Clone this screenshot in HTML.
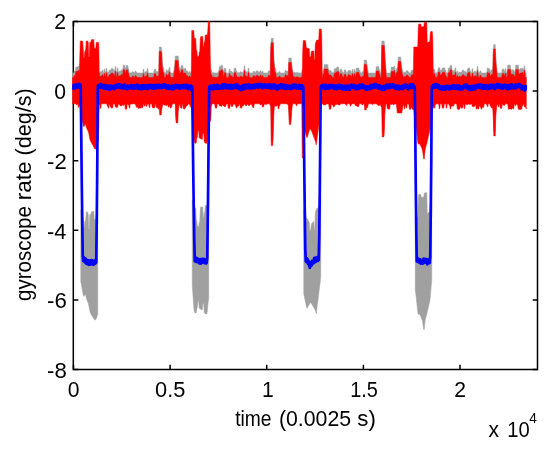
<!DOCTYPE html>
<html><head><meta charset="utf-8"><title>gyroscope rate</title>
<style>html,body{margin:0;padding:0;background:#fff}body{width:550px;height:452px;overflow:hidden}</style>
</head><body>
<svg width="550" height="452" viewBox="0 0 550 452" style="display:block">
<rect width="550" height="452" fill="#fff"/>
<rect x="73.3" y="21.5" width="464.2" height="348.0" fill="none" stroke="#000" stroke-width="1.5"/>
<path d="M73.50 369.5 v-4.8 M73.50 21.5 v4.8 M170.12 369.5 v-4.8 M170.12 21.5 v4.8 M266.75 369.5 v-4.8 M266.75 21.5 v4.8 M363.38 369.5 v-4.8 M363.38 21.5 v4.8 M460.00 369.5 v-4.8 M460.00 21.5 v4.8 M73.5 21.50 h4.8 M537.5 21.50 h-4.8 M73.5 91.10 h4.8 M537.5 91.10 h-4.8 M73.5 160.70 h4.8 M537.5 160.70 h-4.8 M73.5 230.30 h4.8 M537.5 230.30 h-4.8 M73.5 299.90 h4.8 M537.5 299.90 h-4.8 M73.5 369.50 h4.8 M537.5 369.50 h-4.8" stroke="#000" stroke-width="1.5" fill="none"/>
<clipPath id="ax"><rect x="72.2" y="20.7" width="455" height="349"/></clipPath><g clip-path="url(#ax)">
<path d="M72.25 72.9 L72.75 72.9 L73.25 72.9 L73.75 72.7 L74.25 71.1 L74.75 71.1 L75.25 72.5 L75.75 67.0 L76.25 67.0 L76.75 67.0 L77.25 67.0 L77.75 67.0 L78.25 66.0 L78.75 66.0 L79.25 70.5 L79.75 72.8 L80.25 72.5 L80.75 72.3 L81.25 71.1 L81.75 71.0 L82.25 71.0 L82.75 71.1 L83.25 71.5 L83.75 71.6 L84.25 71.6 L84.75 71.5 L85.25 71.0 L85.75 71.1 L86.25 72.7 L86.75 72.6 L87.25 70.6 L87.75 70.3 L88.25 69.2 L88.75 69.1 L89.25 69.1 L89.75 69.2 L90.25 70.4 L90.75 70.7 L91.25 71.8 L91.75 71.9 L92.25 71.4 L92.75 71.0 L93.25 68.3 L93.75 67.9 L94.25 67.9 L94.75 68.4 L95.25 72.4 L95.75 72.7 L96.25 71.2 L96.75 71.0 L97.25 71.0 L97.75 71.2 L98.25 72.7 L98.75 72.8 L99.25 72.4 L99.75 72.3 L100.25 71.8 L100.75 71.8 L101.25 71.8 L101.75 71.6 L102.25 70.1 L102.75 70.2 L103.25 72.6 L103.75 72.4 L104.25 69.0 L104.75 69.0 L105.25 72.4 L105.75 72.3 L106.25 68.0 L106.75 68.0 L107.25 72.3 L107.75 72.8 L108.25 72.0 L108.75 71.7 L109.25 70.3 L109.75 70.1 L110.25 70.1 L110.75 70.0 L111.25 68.6 L111.75 68.5 L112.25 68.5 L112.75 68.5 L113.25 69.2 L113.75 69.5 L114.25 71.2 L114.75 70.9 L115.25 66.6 L115.75 66.7 L116.25 72.2 L116.75 72.3 L117.25 67.9 L117.75 67.8 L118.25 71.6 L118.75 72.0 L119.25 71.3 L119.75 71.3 L120.25 71.3 L120.75 71.1 L121.25 69.8 L121.75 69.8 L122.25 71.7 L122.75 69.5 L123.25 65.0 L123.75 65.0 L124.25 65.0 L124.75 65.6 L125.25 68.6 L125.75 68.1 L126.25 65.5 L126.75 65.2 L127.25 65.2 L127.75 65.5 L128.25 68.3 L128.75 69.1 L129.25 72.4 L129.75 72.9 L130.25 72.8 L130.75 72.8 L131.25 72.9 L131.75 72.7 L132.25 71.7 L132.75 71.6 L133.25 72.0 L133.75 72.1 L134.25 72.8 L134.75 72.6 L135.25 70.9 L135.75 70.9 L136.25 72.1 L136.75 72.3 L137.25 72.8 L137.75 72.9 L138.25 72.9 L138.75 72.9 L139.25 72.9 L139.75 72.9 L140.25 72.9 L140.75 72.9 L141.25 72.9 L141.75 72.9 L142.25 72.9 L142.75 72.4 L143.25 69.0 L143.75 69.0 L144.25 72.4 L144.75 72.7 L145.25 71.7 L145.75 71.6 L146.25 71.6 L146.75 71.2 L147.25 68.3 L147.75 68.4 L148.25 72.4 L148.75 72.9 L149.25 72.9 L149.75 72.9 L150.25 72.9 L150.75 72.9 L151.25 72.9 L151.75 72.9 L152.25 72.9 L152.75 72.9 L153.25 72.9 L153.75 72.5 L154.25 69.5 L154.75 69.1 L155.25 69.1 L155.75 69.4 L156.25 71.5 L156.75 71.8 L157.25 71.6 L157.75 71.6 L158.25 71.6 L158.75 71.5 L159.25 47.0 L159.75 47.0 L160.25 47.0 L160.75 47.0 L161.25 47.0 L161.75 49.2 L162.25 62.2 L162.75 65.4 L163.25 67.3 L163.75 68.1 L164.25 72.3 L164.75 72.8 L165.25 72.8 L165.75 72.5 L166.25 69.8 L166.75 69.6 L167.25 71.1 L167.75 71.1 L168.25 70.1 L168.75 69.7 L169.25 67.2 L169.75 67.5 L170.25 72.2 L170.75 72.8 L171.25 72.8 L171.75 72.9 L172.25 72.9 L172.75 72.9 L173.25 72.9 L173.75 72.1 L174.25 66.0 L174.75 65.6 L175.25 56.0 L175.75 56.0 L176.25 56.0 L176.75 56.0 L177.25 56.0 L177.75 56.0 L178.25 56.0 L178.75 64.7 L179.25 66.9 L179.75 69.7 L180.25 68.2 L180.75 67.7 L181.25 65.5 L181.75 65.2 L182.25 65.2 L182.75 65.6 L183.25 68.7 L183.75 69.0 L184.25 68.4 L184.75 68.3 L185.25 68.3 L185.75 68.6 L186.25 70.8 L186.75 71.1 L187.25 71.1 L187.75 71.2 L188.25 72.7 L188.75 72.7 L189.25 71.5 L189.75 71.5 L190.25 72.7 L190.75 72.7 L191.25 71.5 L191.75 71.3 L192.25 71.0 L192.75 71.2 L193.25 72.7 L193.75 72.7 L194.25 71.5 L194.75 71.5 L195.25 72.7 L195.75 72.7 L196.25 71.5 L196.75 71.5 L197.25 72.7 L197.75 72.8 L198.25 72.3 L198.75 72.2 L199.25 72.2 L199.75 72.0 L200.25 70.0 L200.75 70.1 L201.25 72.5 L201.75 72.9 L202.25 72.9 L202.75 72.7 L203.25 71.8 L203.75 71.8 L204.25 72.7 L204.75 72.9 L205.25 72.9 L205.75 72.9 L206.25 72.9 L206.75 72.9 L207.25 72.9 L207.75 72.9 L208.25 72.9 L208.75 72.9 L209.25 72.9 L209.75 72.4 L210.25 69.0 L210.75 68.7 L211.25 70.0 L211.75 70.4 L212.25 72.6 L212.75 72.8 L213.25 72.4 L213.75 72.4 L214.25 72.8 L214.75 72.9 L215.25 72.9 L215.75 72.9 L216.25 72.9 L216.75 72.9 L217.25 72.9 L217.75 72.8 L218.25 72.0 L218.75 71.3 L219.25 66.9 L219.75 66.3 L220.25 66.3 L220.75 66.2 L221.25 65.3 L221.75 65.2 L222.25 65.2 L222.75 65.9 L223.25 71.7 L223.75 72.0 L224.25 68.5 L224.75 68.1 L225.25 68.1 L225.75 68.6 L226.25 72.4 L226.75 72.9 L227.25 72.9 L227.75 72.9 L228.25 72.9 L228.75 72.4 L229.25 69.1 L229.75 68.9 L230.25 71.0 L230.75 71.3 L231.25 71.3 L231.75 71.4 L232.25 72.3 L232.75 72.5 L233.25 72.8 L233.75 72.4 L234.25 68.4 L234.75 67.9 L235.25 67.9 L235.75 68.2 L236.25 70.7 L236.75 71.1 L237.25 72.7 L237.75 72.8 L238.25 72.4 L238.75 72.4 L239.25 72.8 L239.75 72.7 L240.25 71.7 L240.75 71.6 L241.25 72.0 L241.75 72.1 L242.25 72.6 L242.75 72.5 L243.25 71.7 L243.75 71.0 L244.25 65.8 L244.75 65.8 L245.25 71.1 L245.75 71.7 L246.25 71.6 L246.75 71.7 L247.25 72.5 L247.75 72.1 L248.25 68.0 L248.75 68.0 L249.25 72.3 L249.75 72.9 L250.25 72.9 L250.75 72.9 L251.25 72.9 L251.75 72.9 L252.25 72.9 L252.75 72.7 L253.25 71.4 L253.75 71.2 L254.25 71.2 L254.75 71.4 L255.25 72.7 L255.75 72.6 L256.25 70.9 L256.75 70.7 L257.25 70.7 L257.75 70.8 L258.25 71.8 L258.75 71.9 L259.25 71.9 L259.75 71.7 L260.25 70.4 L260.75 70.5 L261.25 72.6 L261.75 72.6 L262.25 71.0 L262.75 71.0 L263.25 72.6 L263.75 72.9 L264.25 72.9 L264.75 72.9 L265.25 72.9 L265.75 72.9 L266.25 72.9 L266.75 72.9 L267.25 72.9 L267.75 72.7 L268.25 71.0 L268.75 70.8 L269.25 70.8 L269.75 71.0 L270.25 72.7 L270.75 45.1 L271.25 38.3 L271.75 38.3 L272.25 38.3 L272.75 38.3 L273.25 38.3 L273.75 57.0 L274.25 61.6 L274.75 67.1 L275.25 67.8 L275.75 68.4 L276.25 72.4 L276.75 72.9 L277.25 72.9 L277.75 72.8 L278.25 72.6 L278.75 72.5 L279.25 71.4 L279.75 71.5 L280.25 72.7 L280.75 72.9 L281.25 72.9 L281.75 72.9 L282.25 72.9 L282.75 72.9 L283.25 72.9 L283.75 72.9 L284.25 72.9 L284.75 72.6 L285.25 70.2 L285.75 70.0 L286.25 70.9 L286.75 71.0 L287.25 71.0 L287.75 71.2 L288.25 72.5 L288.75 58.0 L289.25 58.0 L289.75 58.0 L290.25 58.0 L290.75 58.0 L291.25 58.0 L291.75 64.2 L292.25 67.1 L292.75 69.4 L293.25 72.3 L293.75 72.3 L294.25 72.3 L294.75 72.3 L295.25 72.8 L295.75 72.8 L296.25 72.4 L296.75 72.4 L297.25 72.4 L297.75 72.4 L298.25 72.8 L298.75 72.9 L299.25 72.9 L299.75 72.9 L300.25 72.9 L300.75 72.9 L301.25 72.9 L301.75 72.5 L302.25 69.4 L302.75 69.4 L303.25 72.5 L303.75 72.9 L304.25 72.9 L304.75 72.8 L305.25 72.3 L305.75 72.3 L306.25 72.8 L306.75 72.7 L307.25 71.4 L307.75 71.2 L308.25 71.2 L308.75 71.3 L309.25 71.6 L309.75 71.8 L310.25 72.7 L310.75 72.9 L311.25 72.9 L311.75 72.9 L312.25 72.9 L312.75 72.9 L313.25 72.9 L313.75 72.9 L314.25 72.9 L314.75 72.9 L315.25 72.9 L315.75 72.9 L316.25 72.9 L316.75 72.9 L317.25 72.9 L317.75 72.9 L318.25 72.9 L318.75 72.9 L319.25 72.9 L319.75 72.9 L320.25 72.9 L320.75 72.9 L321.25 72.9 L321.75 72.9 L322.25 72.9 L322.75 72.5 L323.25 69.8 L323.75 69.8 L324.25 64.5 L324.75 64.5 L325.25 64.5 L325.75 64.5 L326.25 64.5 L326.75 64.5 L327.25 64.5 L327.75 64.5 L328.25 68.6 L328.75 69.6 L329.25 70.4 L329.75 70.4 L330.25 70.4 L330.75 70.5 L331.25 71.2 L331.75 71.5 L332.25 72.7 L332.75 72.8 L333.25 72.8 L333.75 72.4 L334.25 69.0 L334.75 68.6 L335.25 68.6 L335.75 68.5 L336.25 67.8 L336.75 67.6 L337.25 67.0 L337.75 66.9 L338.25 66.9 L338.75 67.5 L339.25 72.3 L339.75 72.5 L340.25 69.5 L340.75 69.1 L341.25 69.1 L341.75 69.4 L342.25 71.8 L342.75 72.2 L343.25 72.8 L343.75 72.5 L344.25 70.1 L344.75 69.8 L345.25 69.8 L345.75 70.1 L346.25 72.5 L346.75 72.8 L347.25 72.2 L347.75 71.9 L348.25 70.2 L348.75 70.0 L349.25 70.5 L349.75 70.5 L350.25 70.5 L350.75 70.8 L351.25 72.6 L351.75 72.5 L352.25 69.3 L352.75 69.3 L353.25 72.5 L353.75 72.5 L354.25 69.3 L354.75 69.3 L355.25 72.5 L355.75 72.9 L356.25 68.0 L356.75 68.0 L357.25 68.0 L357.75 68.0 L358.25 68.0 L358.75 68.0 L359.25 69.9 L359.75 70.4 L360.25 71.6 L360.75 72.9 L361.25 72.9 L361.75 72.7 L362.25 71.8 L362.75 71.6 L363.25 71.6 L363.75 71.8 L364.25 60.0 L364.75 60.0 L365.25 60.0 L365.75 60.0 L366.25 60.0 L366.75 61.0 L367.25 67.1 L367.75 68.7 L368.25 72.9 L368.75 72.9 L369.25 72.9 L369.75 72.9 L370.25 72.9 L370.75 72.9 L371.25 72.9 L371.75 72.9 L372.25 72.9 L372.75 72.9 L373.25 72.9 L373.75 72.9 L374.25 72.9 L374.75 72.9 L375.25 72.9 L375.75 72.8 L376.25 66.5 L376.75 66.5 L377.25 66.5 L377.75 66.5 L378.25 66.5 L378.75 66.5 L379.25 69.4 L379.75 70.1 L380.25 72.1 L380.75 72.9 L381.25 72.9 L381.75 41.0 L382.25 41.0 L382.75 41.0 L383.25 41.0 L383.75 41.0 L384.25 41.0 L384.75 49.4 L385.25 60.7 L385.75 65.0 L386.25 72.5 L386.75 72.9 L387.25 72.9 L387.75 72.9 L388.25 72.9 L388.75 72.9 L389.25 72.9 L389.75 72.9 L390.25 72.9 L390.75 72.8 L391.25 67.0 L391.75 67.0 L392.25 67.0 L392.75 67.0 L393.25 67.0 L393.75 67.0 L394.25 66.1 L394.75 66.2 L395.25 72.1 L395.75 72.4 L396.25 68.8 L396.75 68.2 L397.25 67.2 L397.75 66.9 L398.25 57.0 L398.75 57.0 L399.25 57.0 L399.75 57.0 L400.25 57.0 L400.75 57.0 L401.25 63.6 L401.75 66.8 L402.25 69.2 L402.75 70.5 L403.25 72.3 L403.75 72.5 L404.25 72.2 L404.75 72.2 L405.25 72.2 L405.75 72.0 L406.25 70.8 L406.75 70.6 L407.25 70.6 L407.75 70.7 L408.25 71.7 L408.75 71.9 L409.25 72.7 L409.75 72.9 L410.25 72.9 L410.75 72.6 L411.25 70.5 L411.75 70.3 L412.25 70.3 L412.75 70.3 L413.25 70.5 L413.75 70.3 L414.25 68.9 L414.75 69.1 L415.25 72.4 L415.75 72.9 L416.25 72.9 L416.75 72.3 L417.25 67.8 L417.75 67.3 L418.25 67.3 L418.75 67.6 L419.25 69.8 L419.75 70.1 L420.25 69.8 L420.75 69.7 L421.25 69.7 L421.75 69.3 L422.25 66.3 L422.75 66.6 L423.25 72.2 L423.75 72.4 L424.25 68.4 L424.75 68.4 L425.25 72.3 L425.75 72.6 L426.25 71.1 L426.75 71.1 L427.25 72.7 L427.75 72.9 L428.25 72.9 L428.75 72.7 L429.25 71.2 L429.75 71.0 L430.25 70.7 L430.75 70.8 L431.25 71.7 L431.75 71.9 L432.25 72.0 L432.75 71.7 L433.25 69.3 L433.75 69.0 L434.25 69.0 L434.75 69.4 L435.25 72.5 L435.75 72.9 L436.25 72.9 L436.75 72.7 L437.25 71.9 L437.75 71.3 L438.25 67.9 L438.75 67.4 L439.25 67.4 L439.75 67.8 L440.25 70.6 L440.75 70.8 L441.25 70.0 L441.75 69.7 L442.25 68.3 L442.75 68.1 L443.25 67.7 L443.75 67.7 L444.25 67.7 L444.75 67.9 L445.25 69.9 L445.75 70.4 L446.25 72.5 L446.75 72.8 L447.25 72.8 L447.75 72.4 L448.25 68.4 L448.75 67.9 L449.25 67.9 L449.75 67.6 L450.25 65.5 L450.75 65.2 L451.25 65.2 L451.75 65.8 L452.25 70.8 L452.75 71.3 L453.25 70.5 L453.75 70.4 L454.25 70.4 L454.75 70.1 L455.25 67.7 L455.75 68.0 L456.25 72.3 L456.75 72.7 L457.25 71.2 L457.75 71.2 L458.25 72.7 L458.75 72.8 L459.25 72.1 L459.75 72.0 L460.25 72.2 L460.75 72.2 L461.25 72.1 L461.75 71.9 L462.25 70.3 L462.75 70.1 L463.25 70.1 L463.75 70.3 L464.25 71.2 L464.75 71.4 L465.25 71.6 L465.75 71.7 L466.25 72.7 L466.75 72.5 L467.25 69.6 L467.75 69.1 L468.25 68.0 L468.75 67.9 L469.25 67.9 L469.75 68.2 L470.25 71.0 L470.75 71.5 L471.25 72.7 L471.75 72.4 L472.25 68.6 L472.75 68.6 L473.25 72.4 L473.75 72.7 L474.25 71.5 L474.75 71.3 L475.25 71.3 L475.75 71.5 L476.25 72.7 L476.75 72.1 L477.25 66.3 L477.75 66.3 L478.25 72.0 L478.75 72.7 L479.25 72.8 L479.75 72.6 L480.25 70.7 L480.75 70.7 L481.25 72.6 L481.75 72.9 L482.25 72.9 L482.75 72.9 L483.25 72.9 L483.75 72.9 L484.25 72.9 L484.75 72.9 L485.25 72.9 L485.75 72.9 L486.25 72.9 L486.75 72.3 L487.25 68.2 L487.75 67.8 L488.25 68.5 L488.75 68.5 L489.25 68.5 L489.75 68.9 L490.25 71.6 L490.75 71.7 L491.25 70.1 L491.75 69.8 L492.25 69.8 L492.75 70.1 L493.25 50.1 L493.75 44.5 L494.25 44.5 L494.75 44.5 L495.25 44.5 L495.75 56.9 L496.25 62.7 L496.75 67.1 L497.25 72.9 L497.75 72.9 L498.25 72.9 L498.75 72.9 L499.25 72.9 L499.75 72.9 L500.25 72.9 L500.75 72.9 L501.25 72.9 L501.75 72.5 L502.25 69.3 L502.75 68.9 L503.25 68.9 L503.75 69.1 L504.25 71.2 L504.75 71.2 L505.25 68.5 L505.75 68.7 L506.25 72.4 L506.75 72.8 L507.25 72.2 L507.75 65.0 L508.25 65.0 L508.75 65.0 L509.25 65.0 L509.75 65.0 L510.25 65.0 L510.75 68.6 L511.25 69.5 L511.75 70.7 L512.25 69.8 L512.75 69.7 L513.25 69.7 L513.75 69.9 L514.25 71.4 L514.75 71.7 L515.25 72.7 L515.75 65.0 L516.25 65.0 L516.75 65.0 L517.25 65.0 L517.75 65.0 L518.25 65.0 L518.75 68.6 L519.25 69.5 L519.75 69.8 L520.25 68.6 L520.75 68.4 L521.25 68.4 L521.75 68.4 L522.25 67.8 L522.75 68.0 L523.25 69.9 L523.75 69.7 L524.25 65.7 L524.75 66.0 L525.25 72.1 L525.75 72.9 L526.25 72.9 L526.25 104.5 L525.75 102.8 L525.25 102.5 L524.75 102.5 L524.25 102.2 L523.75 99.6 L523.25 99.5 L522.75 101.2 L522.25 101.7 L521.75 104.5 L521.25 104.9 L520.75 104.9 L520.25 104.9 L519.75 104.9 L519.25 104.9 L518.75 104.9 L518.25 104.5 L517.75 101.2 L517.25 100.6 L516.75 99.4 L516.25 99.5 L515.75 101.3 L515.25 101.3 L514.75 99.5 L514.25 99.9 L513.75 104.3 L513.25 104.7 L512.75 103.6 L512.25 103.6 L511.75 104.7 L511.25 104.8 L510.75 104.5 L510.25 104.5 L509.75 104.5 L509.25 104.5 L508.75 104.8 L508.25 104.3 L507.75 99.9 L507.25 99.4 L506.75 99.3 L506.25 99.3 L505.75 99.3 L505.25 99.5 L504.75 100.9 L504.25 101.0 L503.75 100.8 L503.25 100.6 L502.75 99.7 L502.25 100.1 L501.75 103.7 L501.25 104.1 L500.75 104.1 L500.25 103.6 L499.75 99.8 L499.25 99.6 L498.75 102.4 L498.25 102.4 L497.75 99.6 L497.25 99.5 L496.75 101.5 L496.25 106.8 L495.75 112.3 L495.25 131.5 L494.75 131.5 L494.25 131.5 L493.75 131.5 L493.25 112.3 L492.75 103.3 L492.25 103.7 L491.75 103.4 L491.25 103.2 L490.75 101.7 L490.25 101.3 L489.75 99.5 L489.25 99.3 L488.75 99.3 L488.25 99.6 L487.75 102.2 L487.25 102.3 L486.75 100.0 L486.25 99.7 L485.75 99.3 L485.25 99.3 L484.75 99.3 L484.25 99.7 L483.75 102.5 L483.25 102.8 L482.75 102.8 L482.25 103.0 L481.75 104.7 L481.25 104.7 L480.75 103.0 L480.25 102.6 L479.75 101.2 L479.25 101.4 L478.75 104.5 L478.25 104.7 L477.75 103.5 L477.25 103.5 L476.75 104.7 L476.25 104.4 L475.75 100.6 L475.25 100.3 L474.75 101.7 L474.25 101.9 L473.75 102.1 L473.25 102.1 L472.75 102.1 L472.25 101.9 L471.75 99.6 L471.25 99.4 L470.75 99.8 L470.25 99.8 L469.75 99.8 L469.25 99.8 L468.75 99.4 L468.25 99.4 L467.75 100.2 L467.25 100.3 L466.75 100.2 L466.25 100.1 L465.75 99.4 L465.25 99.9 L464.75 104.3 L464.25 104.3 L463.75 99.9 L463.25 99.7 L462.75 103.2 L462.25 103.6 L461.75 103.6 L461.25 103.5 L460.75 102.5 L460.25 102.6 L459.75 104.6 L459.25 104.9 L458.75 104.9 L458.25 104.9 L457.75 104.9 L457.25 104.3 L456.75 99.9 L456.25 99.3 L455.75 99.3 L455.25 99.3 L454.75 99.3 L454.25 99.5 L453.75 101.5 L453.25 101.7 L452.75 101.6 L452.25 101.6 L451.75 101.6 L451.25 101.9 L450.75 104.5 L450.25 104.5 L449.75 101.5 L449.25 101.0 L448.75 99.5 L448.25 99.3 L447.75 99.3 L447.25 99.8 L446.75 103.6 L446.25 103.6 L445.75 99.8 L445.25 99.3 L444.75 99.3 L444.25 99.8 L443.75 103.4 L443.25 103.8 L442.75 103.8 L442.25 103.4 L441.75 99.8 L441.25 99.3 L440.75 99.3 L440.25 99.9 L439.75 104.3 L439.25 104.3 L438.75 99.9 L438.25 99.3 L437.75 99.3 L437.25 99.3 L436.75 99.3 L436.25 99.4 L435.75 100.1 L435.25 100.6 L434.75 103.4 L434.25 103.7 L433.75 103.7 L433.25 103.3 L432.75 99.7 L432.25 99.3 L431.75 99.3 L431.25 99.3 L430.75 99.7 L430.25 99.7 L429.75 99.7 L429.25 99.9 L428.75 101.3 L428.25 101.3 L427.75 99.5 L427.25 99.3 L426.75 99.3 L426.25 99.5 L425.75 101.3 L425.25 101.7 L424.75 102.5 L424.25 102.6 L423.75 102.6 L423.25 102.6 L422.75 102.3 L422.25 102.0 L421.75 99.6 L421.25 99.7 L420.75 102.6 L420.25 103.2 L419.75 104.7 L419.25 104.5 L418.75 101.5 L418.25 101.1 L417.75 101.1 L417.25 101.3 L416.75 102.9 L416.25 102.7 L415.75 99.7 L415.25 99.3 L414.75 99.3 L414.25 99.9 L413.75 104.3 L413.25 104.9 L412.75 104.9 L412.25 104.6 L411.75 102.5 L411.25 102.5 L410.75 104.6 L410.25 104.9 L409.75 104.9 L409.25 104.3 L408.75 99.9 L408.25 99.3 L407.75 99.3 L407.25 99.8 L406.75 103.5 L406.25 103.6 L405.75 100.8 L405.25 100.9 L404.75 104.4 L404.25 104.3 L403.75 99.9 L403.25 100.6 L402.75 102.7 L402.25 106.1 L401.75 108.5 L401.25 108.5 L400.75 108.5 L400.25 108.5 L399.75 108.5 L399.25 108.5 L398.75 108.5 L398.25 108.5 L397.75 108.5 L397.25 108.5 L396.75 103.1 L396.25 99.3 L395.75 99.5 L395.25 99.5 L394.75 99.4 L394.25 99.5 L393.75 100.5 L393.25 100.5 L392.75 99.4 L392.25 99.4 L391.75 99.9 L391.25 99.9 L390.75 99.4 L390.25 99.9 L389.75 104.3 L389.25 104.8 L388.75 104.6 L388.25 104.6 L387.75 104.6 L387.25 104.0 L386.75 99.8 L386.25 99.3 L385.75 99.3 L385.25 104.3 L384.75 110.4 L384.25 129.3 L383.75 132.5 L383.25 132.5 L382.75 132.5 L382.25 132.5 L381.75 102.4 L381.25 102.5 L380.75 100.7 L380.25 100.6 L379.75 100.9 L379.25 100.9 L378.75 100.9 L378.25 100.9 L377.75 100.4 L377.25 100.3 L376.75 99.4 L376.25 99.3 L375.75 99.3 L375.25 99.3 L374.75 99.3 L374.25 99.3 L373.75 99.3 L373.25 99.4 L372.75 100.0 L372.25 100.0 L371.75 99.4 L371.25 99.3 L370.75 99.3 L370.25 99.3 L369.75 99.3 L369.25 99.3 L368.75 99.3 L368.25 99.7 L367.75 103.0 L367.25 103.0 L366.75 102.2 L366.25 105.5 L365.75 105.5 L365.25 105.5 L364.75 105.5 L364.25 99.5 L363.75 99.3 L363.25 99.4 L362.75 100.5 L362.25 100.5 L361.75 99.4 L361.25 99.3 L360.75 99.3 L360.25 99.3 L359.75 99.3 L359.25 99.6 L358.75 101.9 L358.25 102.2 L357.75 102.2 L357.25 102.1 L356.75 101.3 L356.25 101.2 L355.75 101.2 L355.25 101.0 L354.75 99.5 L354.25 99.3 L353.75 99.3 L353.25 99.3 L352.75 99.3 L352.25 99.4 L351.75 99.8 L351.25 100.0 L350.75 101.6 L350.25 101.6 L349.75 99.6 L349.25 99.3 L348.75 99.3 L348.25 99.3 L347.75 99.3 L347.25 99.5 L346.75 100.8 L346.25 100.8 L345.75 99.8 L345.25 99.6 L344.75 99.3 L344.25 99.3 L343.75 99.3 L343.25 99.3 L342.75 99.3 L342.25 99.3 L341.75 99.3 L341.25 99.3 L340.75 99.3 L340.25 99.4 L339.75 100.6 L339.25 100.7 L338.75 100.4 L338.25 100.3 L337.75 99.7 L337.25 99.7 L336.75 99.9 L336.25 99.9 L335.75 99.9 L335.25 100.1 L334.75 101.8 L334.25 102.0 L333.75 102.3 L333.25 102.1 L332.75 100.5 L332.25 100.3 L331.75 100.3 L331.25 100.7 L330.75 104.4 L330.25 104.9 L329.75 104.9 L329.25 104.3 L328.75 100.0 L328.25 99.5 L327.75 99.5 L327.25 99.5 L326.75 99.3 L326.25 99.4 L325.75 100.3 L325.25 100.4 L324.75 100.4 L324.25 100.4 L323.75 100.4 L323.25 100.3 L322.75 99.4 L322.25 99.3 L321.75 99.3 L321.25 99.3 L320.75 99.3 L320.25 99.6 L319.75 102.4 L319.25 102.8 L318.75 102.8 L318.25 102.7 L317.75 102.1 L317.25 102.1 L316.75 102.5 L316.25 102.2 L315.75 99.7 L315.25 99.6 L314.75 102.0 L314.25 102.0 L313.75 99.6 L313.25 99.3 L312.75 99.3 L312.25 99.4 L311.75 99.8 L311.25 99.9 L310.75 99.7 L310.25 99.6 L309.75 99.3 L309.25 99.3 L308.75 99.3 L308.25 99.5 L307.75 101.2 L307.25 101.5 L306.75 101.5 L306.25 101.4 L305.75 100.8 L305.25 100.6 L304.75 99.4 L304.25 99.3 L303.75 99.3 L303.25 99.3 L302.75 99.3 L302.25 99.3 L301.75 99.3 L301.25 99.3 L300.75 99.3 L300.25 99.3 L299.75 99.3 L299.25 99.3 L298.75 99.3 L298.25 99.3 L297.75 99.3 L297.25 99.5 L296.75 101.3 L296.25 101.3 L295.75 99.5 L295.25 99.3 L294.75 99.3 L294.25 99.3 L293.75 99.3 L293.25 99.3 L292.75 99.3 L292.25 101.4 L291.75 105.8 L291.25 114.1 L290.75 119.9 L290.25 119.9 L289.75 119.9 L289.25 119.9 L288.75 107.6 L288.25 100.6 L287.75 99.9 L287.25 99.8 L286.75 99.4 L286.25 99.3 L285.75 99.3 L285.25 99.3 L284.75 99.3 L284.25 99.3 L283.75 99.3 L283.25 99.3 L282.75 99.3 L282.25 99.3 L281.75 99.3 L281.25 99.3 L280.75 99.3 L280.25 99.5 L279.75 101.3 L279.25 101.8 L278.75 104.5 L278.25 104.4 L277.75 100.9 L277.25 100.6 L276.75 101.6 L276.25 101.7 L275.75 101.7 L275.25 101.6 L274.75 100.4 L274.25 103.0 L273.75 111.6 L273.25 128.9 L272.75 141.1 L272.25 141.1 L271.75 141.1 L271.25 141.1 L270.75 101.7 L270.25 101.7 L269.75 99.6 L269.25 99.3 L268.75 99.3 L268.25 99.3 L267.75 99.3 L267.25 99.4 L266.75 99.9 L266.25 99.9 L265.75 99.9 L265.25 99.9 L264.75 99.5 L264.25 99.8 L263.75 102.2 L263.25 102.5 L262.75 102.5 L262.25 102.2 L261.75 99.6 L261.25 99.4 L260.75 100.5 L260.25 100.5 L259.75 99.4 L259.25 99.3 L258.75 99.3 L258.25 99.3 L257.75 99.3 L257.25 99.3 L256.75 99.3 L256.25 99.3 L255.75 99.3 L255.25 99.3 L254.75 99.3 L254.25 99.7 L253.75 103.0 L253.25 103.3 L252.75 102.5 L252.25 102.1 L251.75 100.0 L251.25 99.7 L250.75 99.8 L250.25 99.9 L249.75 100.9 L249.25 101.0 L248.75 101.0 L248.25 100.9 L247.75 99.5 L247.25 99.5 L246.75 100.8 L246.25 101.0 L245.75 101.0 L245.25 100.8 L244.75 99.5 L244.25 99.5 L243.75 101.0 L243.25 101.2 L242.75 101.2 L242.25 101.5 L241.75 103.4 L241.25 103.7 L240.75 103.7 L240.25 103.2 L239.75 99.7 L239.25 99.5 L238.75 101.4 L238.25 101.7 L237.75 101.7 L237.25 101.9 L236.75 103.5 L236.25 103.5 L235.75 101.4 L235.25 101.0 L234.75 99.5 L234.25 99.4 L233.75 99.8 L233.25 100.1 L232.75 101.8 L232.25 102.0 L231.75 102.0 L231.25 101.7 L230.75 99.6 L230.25 99.8 L229.75 103.6 L229.25 104.1 L228.75 104.1 L228.25 103.6 L227.75 99.8 L227.25 99.3 L226.75 99.3 L226.25 99.6 L225.75 101.9 L225.25 102.2 L224.75 102.2 L224.25 102.1 L223.75 101.4 L223.25 101.2 L222.75 100.3 L222.25 100.4 L221.75 101.8 L221.25 101.9 L220.75 101.4 L220.25 101.3 L219.75 101.3 L219.25 101.1 L218.75 99.5 L218.25 99.3 L217.75 99.3 L217.25 99.8 L216.75 103.4 L216.25 103.8 L215.75 103.8 L215.25 103.4 L214.75 99.8 L214.25 99.4 L213.75 99.3 L213.25 99.3 L212.75 99.3 L212.25 99.4 L211.75 100.2 L211.25 100.5 L210.75 102.1 L210.25 102.0 L209.75 99.6 L209.25 99.3 L208.75 99.3 L208.25 99.4 L207.75 100.2 L207.25 100.3 L206.75 100.4 L206.25 100.4 L205.75 99.8 L205.25 100.0 L204.75 101.5 L204.25 101.5 L203.75 99.5 L203.25 99.5 L202.75 101.5 L202.25 101.5 L201.75 99.5 L201.25 99.3 L200.75 99.3 L200.25 99.7 L199.75 103.2 L199.25 103.6 L198.75 103.9 L198.25 103.5 L197.75 99.8 L197.25 99.3 L196.75 99.3 L196.25 99.9 L195.75 104.3 L195.25 104.9 L194.75 104.9 L194.25 104.3 L193.75 99.9 L193.25 99.3 L192.75 99.3 L192.25 99.7 L191.75 102.7 L191.25 103.1 L190.75 102.6 L190.25 102.3 L189.75 100.0 L189.25 99.7 L188.75 99.3 L188.25 99.4 L187.75 100.6 L187.25 100.9 L186.75 101.4 L186.25 101.6 L185.75 102.9 L185.25 103.2 L184.75 104.4 L184.25 104.6 L183.75 104.6 L183.25 104.1 L182.75 99.8 L182.25 99.8 L181.75 103.6 L181.25 104.0 L180.75 103.1 L180.25 102.7 L179.75 99.8 L179.25 99.6 L178.75 103.5 L178.25 106.7 L177.75 118.5 L177.25 118.5 L176.75 118.5 L176.25 118.5 L175.75 114.7 L175.25 99.3 L174.75 99.3 L174.25 99.3 L173.75 99.3 L173.25 99.3 L172.75 99.3 L172.25 99.7 L171.75 102.5 L171.25 102.9 L170.75 103.7 L170.25 103.5 L169.75 101.1 L169.25 101.0 L168.75 102.7 L168.25 102.6 L167.75 100.5 L167.25 100.3 L166.75 100.9 L166.25 101.0 L165.75 100.7 L165.25 100.7 L164.75 100.7 L164.25 100.6 L163.75 100.1 L163.25 100.1 L162.75 99.9 L162.25 102.5 L161.75 104.3 L161.25 110.5 L160.75 110.5 L160.25 110.5 L159.75 110.5 L159.25 103.9 L158.75 104.3 L158.25 104.7 L157.75 103.4 L157.25 103.3 L156.75 103.3 L156.25 102.9 L155.75 99.7 L155.25 99.7 L154.75 103.0 L154.25 103.4 L153.75 103.4 L153.25 103.4 L152.75 103.3 L152.25 102.9 L151.75 99.7 L151.25 99.3 L150.75 99.3 L150.25 99.7 L149.75 103.1 L149.25 103.2 L148.75 100.0 L148.25 99.6 L147.75 99.6 L147.25 99.9 L146.75 102.1 L146.25 102.1 L145.75 99.8 L145.25 99.7 L144.75 101.6 L144.25 101.6 L143.75 100.1 L143.25 100.3 L142.75 102.9 L142.25 103.3 L141.75 103.3 L141.25 103.3 L140.75 103.6 L140.25 103.6 L139.75 103.6 L139.25 103.6 L138.75 104.0 L138.25 103.9 L137.75 102.9 L137.25 102.8 L136.75 102.8 L136.25 102.6 L135.75 100.4 L135.25 100.1 L134.75 99.4 L134.25 99.3 L133.75 99.3 L133.25 99.3 L132.75 99.6 L132.25 99.6 L131.75 99.6 L131.25 99.6 L130.75 99.3 L130.25 99.8 L129.75 103.6 L129.25 103.7 L128.75 100.7 L128.25 100.2 L127.75 99.4 L127.25 99.9 L126.75 104.3 L126.25 104.9 L125.75 104.9 L125.25 104.3 L124.75 100.1 L124.25 99.7 L123.75 100.9 L123.25 101.0 L122.75 100.6 L122.25 100.6 L121.75 101.3 L121.25 101.4 L120.75 101.4 L120.25 101.3 L119.75 100.3 L119.25 100.1 L118.75 99.4 L118.25 99.7 L117.75 102.7 L117.25 103.0 L116.75 103.0 L116.25 103.0 L115.75 102.6 L115.25 102.2 L114.75 99.6 L114.25 99.3 L113.75 99.3 L113.25 99.7 L112.75 103.1 L112.25 103.6 L111.75 103.6 L111.25 103.4 L110.75 102.4 L110.25 101.9 L109.75 99.6 L109.25 99.8 L108.75 103.6 L108.25 103.8 L107.75 101.7 L107.25 101.2 L106.75 99.5 L106.25 99.3 L105.75 99.3 L105.25 99.3 L104.75 99.3 L104.25 99.3 L103.75 99.3 L103.25 99.3 L102.75 99.3 L102.25 99.3 L101.75 99.3 L101.25 99.8 L100.75 104.1 L100.25 104.1 L99.75 99.8 L99.25 99.9 L98.75 104.3 L98.25 104.3 L97.75 99.9 L97.25 99.5 L96.75 101.0 L96.25 101.4 L95.75 102.5 L95.25 102.8 L94.75 104.6 L94.25 104.3 L93.75 99.9 L93.25 99.9 L92.75 104.3 L92.25 104.7 L91.75 102.9 L91.25 102.4 L90.75 100.2 L90.25 99.8 L89.75 99.4 L89.25 99.9 L88.75 103.8 L88.25 103.8 L87.75 99.8 L87.25 99.3 L86.75 99.3 L86.25 99.5 L85.75 101.2 L85.25 101.2 L84.75 99.5 L84.25 99.6 L83.75 102.4 L83.25 102.7 L82.75 102.0 L82.25 101.9 L81.75 101.9 L81.25 101.8 L80.75 101.1 L80.25 101.0 L79.75 101.0 L79.25 101.2 L78.75 102.9 L78.25 102.7 L77.75 99.7 L77.25 99.4 L76.75 100.2 L76.25 100.2 L75.75 99.4 L75.25 99.3 L74.75 99.3 L74.25 99.3 L73.75 99.3 L73.25 99.3 L72.75 99.3 L72.25 99.3Z M80.75 210.0 L81.25 210.0 L81.75 210.0 L82.25 210.0 L82.75 211.0 L83.25 218.7 L83.75 227.5 L84.25 227.7 L84.75 221.4 L85.25 221.4 L85.75 219.0 L86.25 211.8 L86.75 212.0 L87.25 212.2 L87.75 212.4 L88.25 214.2 L88.75 228.9 L89.25 229.1 L89.75 214.7 L90.25 214.6 L90.75 214.6 L91.25 212.3 L91.75 211.5 L92.25 211.5 L92.75 211.4 L93.25 211.3 L93.75 211.1 L94.25 218.7 L94.75 219.6 L95.25 219.4 L95.75 219.2 L96.25 212.9 L96.75 212.9 L97.25 212.9 L97.75 212.9 L97.75 313.5 L97.25 315.4 L96.75 317.4 L96.25 318.7 L95.75 319.4 L95.25 320.1 L94.75 320.1 L94.25 319.3 L93.75 318.6 L93.25 317.8 L92.75 317.0 L92.25 316.2 L91.75 315.4 L91.25 314.5 L90.75 313.6 L90.25 312.6 L89.75 310.8 L89.25 308.1 L88.75 305.2 L88.25 303.2 L87.75 301.9 L87.25 300.7 L86.75 299.5 L86.25 297.8 L85.75 295.5 L85.25 293.8 L84.75 294.9 L84.25 296.1 L83.75 296.3 L83.25 295.0 L82.75 292.2 L82.25 289.6 L81.75 286.9 L81.25 284.1 L80.75 281.4Z M192.25 199.8 L192.75 199.8 L193.25 199.8 L193.75 199.8 L194.25 207.3 L194.75 207.5 L195.25 207.8 L195.75 208.0 L196.25 219.8 L196.75 220.2 L197.25 225.5 L197.75 226.6 L198.25 226.7 L198.75 226.8 L199.25 222.3 L199.75 222.4 L200.25 209.5 L200.75 207.0 L201.25 207.0 L201.75 207.0 L202.25 207.0 L202.75 207.1 L203.25 217.6 L203.75 217.6 L204.25 212.6 L204.75 212.6 L205.25 205.6 L205.75 205.6 L206.25 205.6 L206.75 205.6 L207.25 205.6 L207.75 202.2 L208.25 192.1 L208.75 192.1 L208.75 298.2 L208.25 301.1 L207.75 306.3 L207.25 311.5 L206.75 314.0 L206.25 313.9 L205.75 313.8 L205.25 313.7 L204.75 313.3 L204.25 312.7 L203.75 303.6 L203.25 303.6 L202.75 304.6 L202.25 309.9 L201.75 309.7 L201.25 309.4 L200.75 309.2 L200.25 308.9 L199.75 308.6 L199.25 308.3 L198.75 301.9 L198.25 299.7 L197.75 303.4 L197.25 307.4 L196.75 308.7 L196.25 312.8 L195.75 312.9 L195.25 312.9 L194.75 312.2 L194.25 310.9 L193.75 306.7 L193.25 299.4 L192.75 292.2 L192.25 284.9Z M303.75 209.5 L304.25 209.5 L304.75 209.5 L305.25 209.5 L305.75 211.0 L306.25 217.4 L306.75 218.0 L307.25 218.7 L307.75 219.5 L308.25 220.4 L308.75 221.4 L309.25 222.4 L309.75 230.8 L310.25 230.5 L310.75 230.1 L311.25 224.8 L311.75 223.4 L312.25 222.9 L312.75 222.4 L313.25 221.9 L313.75 221.5 L314.25 230.1 L314.75 229.7 L315.25 214.3 L315.75 210.9 L316.25 210.1 L316.75 208.4 L317.25 208.2 L317.75 208.1 L318.25 207.9 L318.75 207.7 L319.25 196.6 L319.75 196.6 L320.25 196.6 L320.75 196.6 L320.75 276.1 L320.25 281.6 L319.75 285.6 L319.25 289.6 L318.75 293.8 L318.25 298.2 L317.75 302.2 L317.25 305.6 L316.75 310.1 L316.25 313.5 L315.75 311.8 L315.25 310.3 L314.75 309.1 L314.25 308.2 L313.75 307.4 L313.25 306.6 L312.75 305.7 L312.25 304.9 L311.75 304.0 L311.25 303.4 L310.75 302.9 L310.25 302.4 L309.75 303.1 L309.25 304.4 L308.75 305.1 L308.25 306.0 L307.75 307.0 L307.25 308.3 L306.75 307.8 L306.25 305.5 L305.75 303.1 L305.25 300.9 L304.75 298.8 L304.25 296.2 L303.75 293.8Z M415.25 216.4 L415.75 216.4 L416.25 216.4 L416.75 216.5 L417.25 216.6 L417.75 216.8 L418.25 197.8 L418.75 194.2 L419.25 194.3 L419.75 194.5 L420.25 194.6 L420.75 194.6 L421.25 197.1 L421.75 197.5 L422.25 197.4 L422.75 197.3 L423.25 197.2 L423.75 197.1 L424.25 193.5 L424.75 192.8 L425.25 192.8 L425.75 192.8 L426.25 192.8 L426.75 192.8 L427.25 213.6 L427.75 213.5 L428.25 212.4 L428.75 212.4 L429.25 212.3 L429.75 212.3 L430.25 203.5 L430.75 201.7 L431.25 201.7 L431.75 201.7 L431.75 280.1 L431.25 285.5 L430.75 291.2 L430.25 297.2 L429.75 301.3 L429.25 303.3 L428.75 305.4 L428.25 307.5 L427.75 309.8 L427.25 312.0 L426.75 314.0 L426.25 315.9 L425.75 317.8 L425.25 319.7 L424.75 324.3 L424.25 329.6 L423.75 329.6 L423.25 326.7 L422.75 322.6 L422.25 320.0 L421.75 318.9 L421.25 317.7 L420.75 316.6 L420.25 315.6 L419.75 314.5 L419.25 314.0 L418.75 314.2 L418.25 314.3 L417.75 312.0 L417.25 307.2 L416.75 302.4 L416.25 297.7 L415.75 293.5 L415.25 289.8Z" fill="#a0a0a0" stroke="#a0a0a0" stroke-width="0.5" stroke-linejoin="round"/>
<path d="M72.25 77.4 L72.75 77.4 L73.25 77.4 L73.75 77.2 L74.25 75.6 L74.75 75.6 L75.25 77.0 L75.75 71.5 L76.25 71.5 L76.75 71.5 L77.25 71.5 L77.75 71.5 L78.25 70.5 L78.75 70.5 L79.25 75.0 L79.75 58.5 L80.25 41.0 L80.75 41.0 L81.25 41.0 L81.75 41.0 L82.25 41.0 L82.75 42.0 L83.25 49.5 L83.75 58.0 L84.25 58.0 L84.75 51.4 L85.25 51.2 L85.75 48.5 L86.25 41.0 L86.75 41.0 L87.25 41.0 L87.75 41.0 L88.25 42.5 L88.75 57.0 L89.25 57.0 L89.75 42.5 L90.25 42.5 L90.75 42.5 L91.25 40.2 L91.75 39.5 L92.25 39.5 L92.75 39.5 L93.25 39.5 L93.75 39.5 L94.25 47.4 L94.75 48.5 L95.25 48.5 L95.75 48.5 L96.25 42.5 L96.75 42.5 L97.25 42.5 L97.75 42.5 L98.25 42.5 L98.75 42.5 L99.25 71.8 L99.75 76.8 L100.25 76.3 L100.75 76.3 L101.25 76.3 L101.75 76.1 L102.25 74.6 L102.75 74.7 L103.25 77.1 L103.75 76.9 L104.25 73.5 L104.75 73.5 L105.25 76.9 L105.75 76.8 L106.25 72.5 L106.75 72.5 L107.25 76.8 L107.75 77.3 L108.25 76.5 L108.75 76.2 L109.25 74.8 L109.75 74.7 L110.25 74.6 L110.75 74.5 L111.25 73.1 L111.75 73.0 L112.25 73.0 L112.75 73.1 L113.25 73.7 L113.75 74.0 L114.25 75.8 L114.75 75.4 L115.25 71.1 L115.75 71.2 L116.25 76.7 L116.75 76.8 L117.25 72.4 L117.75 72.4 L118.25 76.1 L118.75 76.5 L119.25 75.9 L119.75 75.8 L120.25 75.8 L120.75 75.6 L121.25 74.3 L121.75 74.4 L122.25 76.3 L122.75 74.0 L123.25 69.5 L123.75 69.5 L124.25 69.5 L124.75 70.1 L125.25 73.1 L125.75 72.7 L126.25 70.0 L126.75 69.7 L127.25 69.7 L127.75 70.1 L128.25 72.8 L128.75 73.6 L129.25 77.0 L129.75 77.4 L130.25 77.4 L130.75 77.4 L131.25 77.4 L131.75 77.2 L132.25 76.2 L132.75 76.1 L133.25 76.5 L133.75 76.6 L134.25 77.3 L134.75 77.2 L135.25 75.5 L135.75 75.4 L136.25 76.6 L136.75 76.8 L137.25 77.3 L137.75 77.4 L138.25 77.4 L138.75 77.4 L139.25 77.4 L139.75 77.4 L140.25 77.4 L140.75 77.4 L141.25 77.4 L141.75 77.4 L142.25 77.4 L142.75 77.0 L143.25 73.6 L143.75 73.6 L144.25 77.0 L144.75 77.2 L145.25 76.2 L145.75 76.1 L146.25 76.1 L146.75 75.7 L147.25 72.8 L147.75 73.0 L148.25 76.9 L148.75 77.4 L149.25 77.4 L149.75 77.4 L150.25 77.4 L150.75 77.4 L151.25 77.4 L151.75 77.4 L152.25 77.4 L152.75 77.4 L153.25 77.4 L153.75 77.0 L154.25 74.0 L154.75 73.6 L155.25 73.6 L155.75 73.9 L156.25 76.1 L156.75 76.3 L157.25 76.2 L157.75 76.1 L158.25 76.1 L158.75 76.0 L159.25 51.5 L159.75 51.5 L160.25 51.5 L160.75 51.5 L161.25 51.5 L161.75 53.7 L162.25 66.7 L162.75 70.0 L163.25 71.9 L163.75 72.6 L164.25 76.8 L164.75 77.3 L165.25 77.4 L165.75 77.0 L166.25 74.3 L166.75 74.2 L167.25 75.6 L167.75 75.6 L168.25 74.6 L168.75 74.2 L169.25 71.7 L169.75 72.0 L170.25 76.7 L170.75 77.3 L171.25 77.4 L171.75 77.4 L172.25 77.4 L172.75 77.4 L173.25 77.4 L173.75 76.6 L174.25 70.5 L174.75 70.1 L175.25 60.5 L175.75 60.5 L176.25 60.5 L176.75 60.5 L177.25 60.5 L177.75 60.5 L178.25 60.5 L178.75 69.2 L179.25 71.4 L179.75 74.3 L180.25 72.7 L180.75 72.2 L181.25 70.0 L181.75 69.7 L182.25 69.7 L182.75 70.1 L183.25 73.3 L183.75 73.6 L184.25 72.9 L184.75 72.9 L185.25 72.9 L185.75 73.1 L186.25 75.3 L186.75 75.6 L187.25 75.6 L187.75 75.8 L188.25 77.2 L188.75 77.2 L189.25 76.0 L189.75 76.0 L190.25 77.2 L190.75 77.2 L191.25 76.0 L191.75 30.5 L192.25 30.5 L192.75 30.5 L193.25 30.5 L193.75 30.5 L194.25 38.0 L194.75 38.2 L195.25 38.3 L195.75 38.4 L196.25 50.0 L196.75 50.3 L197.25 55.5 L197.75 56.5 L198.25 56.5 L198.75 56.5 L199.25 52.0 L199.75 52.0 L200.25 39.1 L200.75 36.5 L201.25 36.5 L201.75 36.5 L202.25 36.5 L202.75 36.5 L203.25 47.0 L203.75 47.0 L204.25 42.0 L204.75 42.0 L205.25 35.0 L205.75 35.0 L206.25 35.0 L206.75 35.0 L207.25 35.0 L207.75 31.6 L208.25 21.5 L208.75 21.5 L209.25 21.5 L209.75 21.5 L210.25 55.6 L210.75 73.2 L211.25 74.5 L211.75 74.9 L212.25 77.1 L212.75 77.3 L213.25 76.9 L213.75 76.9 L214.25 77.3 L214.75 77.4 L215.25 77.4 L215.75 77.4 L216.25 77.4 L216.75 77.4 L217.25 77.4 L217.75 77.3 L218.25 76.5 L218.75 75.9 L219.25 71.4 L219.75 70.8 L220.25 70.8 L220.75 70.7 L221.25 69.8 L221.75 69.7 L222.25 69.7 L222.75 70.4 L223.25 76.3 L223.75 76.6 L224.25 73.1 L224.75 72.6 L225.25 72.6 L225.75 73.1 L226.25 76.9 L226.75 77.4 L227.25 77.4 L227.75 77.4 L228.25 77.4 L228.75 77.0 L229.25 73.6 L229.75 73.4 L230.25 75.5 L230.75 75.8 L231.25 75.8 L231.75 75.9 L232.25 76.8 L232.75 77.0 L233.25 77.3 L233.75 76.9 L234.25 72.9 L234.75 72.4 L235.25 72.4 L235.75 72.8 L236.25 75.2 L236.75 75.7 L237.25 77.2 L237.75 77.3 L238.25 77.0 L238.75 77.0 L239.25 77.3 L239.75 77.2 L240.25 76.2 L240.75 76.2 L241.25 76.5 L241.75 76.6 L242.25 77.1 L242.75 77.1 L243.25 76.2 L243.75 75.5 L244.25 70.4 L244.75 70.4 L245.25 75.6 L245.75 76.2 L246.25 76.1 L246.75 76.2 L247.25 77.0 L247.75 76.6 L248.25 72.5 L248.75 72.5 L249.25 76.8 L249.75 77.4 L250.25 77.4 L250.75 77.4 L251.25 77.4 L251.75 77.4 L252.25 77.4 L252.75 77.2 L253.25 75.9 L253.75 75.8 L254.25 75.8 L254.75 75.9 L255.25 77.2 L255.75 77.2 L256.25 75.4 L256.75 75.2 L257.25 75.2 L257.75 75.3 L258.25 76.3 L258.75 76.4 L259.25 76.4 L259.75 76.3 L260.25 74.9 L260.75 75.0 L261.25 77.1 L261.75 77.2 L262.25 75.5 L262.75 75.5 L263.25 77.2 L263.75 77.4 L264.25 77.4 L264.75 77.4 L265.25 77.4 L265.75 77.4 L266.25 77.4 L266.75 77.4 L267.25 77.4 L267.75 77.2 L268.25 75.6 L268.75 75.4 L269.25 75.4 L269.75 75.6 L270.25 77.2 L270.75 49.6 L271.25 42.8 L271.75 42.8 L272.25 42.8 L272.75 42.8 L273.25 42.8 L273.75 61.5 L274.25 66.1 L274.75 71.6 L275.25 72.3 L275.75 72.9 L276.25 76.9 L276.75 77.4 L277.25 77.4 L277.75 77.4 L278.25 77.2 L278.75 77.0 L279.25 76.0 L279.75 76.0 L280.25 77.2 L280.75 77.4 L281.25 77.4 L281.75 77.4 L282.25 77.4 L282.75 77.4 L283.25 77.4 L283.75 77.4 L284.25 77.4 L284.75 77.1 L285.25 74.8 L285.75 74.6 L286.25 75.4 L286.75 75.5 L287.25 75.5 L287.75 75.7 L288.25 77.0 L288.75 62.5 L289.25 62.5 L289.75 62.5 L290.25 62.5 L290.75 62.5 L291.25 62.5 L291.75 68.7 L292.25 71.6 L292.75 73.9 L293.25 76.8 L293.75 76.8 L294.25 76.8 L294.75 76.8 L295.25 77.3 L295.75 77.3 L296.25 77.0 L296.75 76.9 L297.25 76.9 L297.75 77.0 L298.25 77.3 L298.75 77.4 L299.25 77.4 L299.75 77.4 L300.25 77.4 L300.75 77.4 L301.25 77.4 L301.75 77.0 L302.25 73.9 L302.75 49.4 L303.25 40.5 L303.75 40.5 L304.25 40.5 L304.75 40.5 L305.25 40.5 L305.75 41.7 L306.25 47.6 L306.75 47.8 L307.25 48.0 L307.75 48.2 L308.25 48.4 L308.75 48.6 L309.25 48.7 L309.75 57.0 L310.25 57.0 L310.75 57.0 L311.25 52.0 L311.75 51.0 L312.25 51.0 L312.75 51.0 L313.25 51.0 L313.75 51.0 L314.25 60.0 L314.75 60.0 L315.25 45.0 L315.75 42.0 L316.25 41.5 L316.75 40.0 L317.25 40.0 L317.75 40.0 L318.25 40.0 L318.75 40.0 L319.25 29.0 L319.75 29.0 L320.25 29.0 L320.75 29.0 L321.25 29.0 L321.75 34.9 L322.25 77.4 L322.75 77.0 L323.25 74.3 L323.75 74.3 L324.25 69.0 L324.75 69.0 L325.25 69.0 L325.75 69.0 L326.25 69.0 L326.75 69.0 L327.25 69.0 L327.75 69.0 L328.25 73.1 L328.75 74.1 L329.25 74.9 L329.75 74.9 L330.25 74.9 L330.75 75.0 L331.25 75.7 L331.75 76.0 L332.25 77.2 L332.75 77.4 L333.25 77.4 L333.75 76.9 L334.25 73.5 L334.75 73.1 L335.25 73.1 L335.75 73.0 L336.25 72.3 L336.75 72.1 L337.25 71.5 L337.75 71.4 L338.25 71.4 L338.75 72.0 L339.25 76.8 L339.75 77.0 L340.25 74.0 L340.75 73.6 L341.25 73.6 L341.75 73.9 L342.25 76.4 L342.75 76.7 L343.25 77.3 L343.75 77.1 L344.25 74.6 L344.75 74.3 L345.25 74.3 L345.75 74.6 L346.25 77.1 L346.75 77.3 L347.25 76.8 L347.75 76.5 L348.25 74.7 L348.75 74.5 L349.25 75.0 L349.75 75.1 L350.25 75.1 L350.75 75.3 L351.25 77.1 L351.75 77.0 L352.25 73.8 L352.75 73.8 L353.25 77.0 L353.75 77.0 L354.25 73.8 L354.75 73.8 L355.25 77.0 L355.75 77.4 L356.25 72.5 L356.75 72.5 L357.25 72.5 L357.75 72.5 L358.25 72.5 L358.75 72.5 L359.25 74.5 L359.75 75.0 L360.25 76.2 L360.75 77.4 L361.25 77.4 L361.75 77.3 L362.25 76.3 L362.75 76.2 L363.25 76.2 L363.75 76.3 L364.25 64.5 L364.75 64.5 L365.25 64.5 L365.75 64.5 L366.25 64.5 L366.75 65.6 L367.25 71.6 L367.75 73.2 L368.25 77.4 L368.75 77.4 L369.25 77.4 L369.75 77.4 L370.25 77.4 L370.75 77.4 L371.25 77.4 L371.75 77.4 L372.25 77.4 L372.75 77.4 L373.25 77.4 L373.75 77.4 L374.25 77.4 L374.75 77.4 L375.25 77.4 L375.75 77.3 L376.25 71.0 L376.75 71.0 L377.25 71.0 L377.75 71.0 L378.25 71.0 L378.75 71.0 L379.25 74.0 L379.75 74.7 L380.25 76.7 L380.75 77.4 L381.25 77.4 L381.75 45.5 L382.25 45.5 L382.75 45.5 L383.25 45.5 L383.75 45.5 L384.25 45.5 L384.75 53.9 L385.25 65.2 L385.75 69.5 L386.25 77.0 L386.75 77.4 L387.25 77.4 L387.75 77.4 L388.25 77.4 L388.75 77.4 L389.25 77.4 L389.75 77.4 L390.25 77.4 L390.75 77.3 L391.25 71.5 L391.75 71.5 L392.25 71.5 L392.75 71.5 L393.25 71.5 L393.75 71.5 L394.25 70.6 L394.75 70.7 L395.25 76.6 L395.75 76.9 L396.25 73.3 L396.75 72.7 L397.25 71.8 L397.75 71.5 L398.25 61.5 L398.75 61.5 L399.25 61.5 L399.75 61.5 L400.25 61.5 L400.75 61.5 L401.25 68.1 L401.75 71.3 L402.25 73.8 L402.75 75.0 L403.25 76.9 L403.75 77.1 L404.25 76.7 L404.75 76.7 L405.25 76.7 L405.75 76.5 L406.25 75.3 L406.75 75.1 L407.25 75.1 L407.75 75.3 L408.25 76.2 L408.75 76.4 L409.25 77.3 L409.75 77.4 L410.25 77.4 L410.75 77.1 L411.25 75.0 L411.75 74.8 L412.25 74.8 L412.75 74.8 L413.25 75.0 L413.75 47.0 L414.25 47.0 L414.75 47.0 L415.25 47.0 L415.75 47.0 L416.25 47.0 L416.75 47.0 L417.25 47.0 L417.75 47.0 L418.25 27.8 L418.75 24.0 L419.25 24.0 L419.75 24.0 L420.25 24.0 L420.75 24.0 L421.25 26.5 L421.75 26.9 L422.25 26.8 L422.75 26.7 L423.25 26.6 L423.75 26.5 L424.25 22.9 L424.75 22.2 L425.25 22.2 L425.75 22.2 L426.25 22.2 L426.75 22.2 L427.25 43.0 L427.75 43.0 L428.25 42.0 L428.75 42.0 L429.25 42.0 L429.75 42.0 L430.25 33.3 L430.75 31.5 L431.25 31.5 L431.75 31.5 L432.25 31.5 L432.75 37.1 L433.25 73.8 L433.75 73.5 L434.25 73.5 L434.75 73.9 L435.25 77.0 L435.75 77.4 L436.25 77.4 L436.75 77.3 L437.25 76.4 L437.75 75.8 L438.25 72.4 L438.75 72.0 L439.25 72.0 L439.75 72.3 L440.25 75.1 L440.75 75.3 L441.25 74.5 L441.75 74.2 L442.25 72.8 L442.75 72.6 L443.25 72.2 L443.75 72.2 L444.25 72.2 L444.75 72.4 L445.25 74.4 L445.75 74.9 L446.25 77.1 L446.75 77.3 L447.25 77.4 L447.75 76.9 L448.25 72.9 L448.75 72.4 L449.25 72.4 L449.75 72.2 L450.25 70.0 L450.75 69.7 L451.25 69.7 L451.75 70.3 L452.25 75.3 L452.75 75.8 L453.25 75.0 L453.75 74.9 L454.25 74.9 L454.75 74.6 L455.25 72.3 L455.75 72.5 L456.25 76.8 L456.75 77.2 L457.25 75.7 L457.75 75.7 L458.25 77.2 L458.75 77.3 L459.25 76.6 L459.75 76.6 L460.25 76.7 L460.75 76.8 L461.25 76.6 L461.75 76.4 L462.25 74.9 L462.75 74.7 L463.25 74.7 L463.75 74.8 L464.25 75.7 L464.75 75.9 L465.25 76.1 L465.75 76.2 L466.25 77.2 L466.75 77.0 L467.25 74.1 L467.75 73.6 L468.25 72.5 L468.75 72.4 L469.25 72.4 L469.75 72.7 L470.25 75.5 L470.75 76.0 L471.25 77.2 L471.75 76.9 L472.25 73.1 L472.75 73.1 L473.25 76.9 L473.75 77.2 L474.25 76.0 L474.75 75.8 L475.25 75.8 L475.75 76.0 L476.25 77.2 L476.75 76.6 L477.25 70.8 L477.75 70.8 L478.25 76.5 L478.75 77.2 L479.25 77.4 L479.75 77.1 L480.25 75.2 L480.75 75.2 L481.25 77.1 L481.75 77.4 L482.25 77.4 L482.75 77.4 L483.25 77.4 L483.75 77.4 L484.25 77.4 L484.75 77.4 L485.25 77.4 L485.75 77.4 L486.25 77.4 L486.75 76.9 L487.25 72.8 L487.75 72.3 L488.25 73.0 L488.75 73.1 L489.25 73.1 L489.75 73.4 L490.25 76.1 L490.75 76.2 L491.25 74.6 L491.75 74.4 L492.25 74.4 L492.75 74.6 L493.25 54.6 L493.75 49.0 L494.25 49.0 L494.75 49.0 L495.25 49.0 L495.75 61.4 L496.25 67.2 L496.75 71.7 L497.25 77.4 L497.75 77.4 L498.25 77.4 L498.75 77.4 L499.25 77.4 L499.75 77.4 L500.25 77.4 L500.75 77.4 L501.25 77.4 L501.75 77.0 L502.25 73.8 L502.75 73.4 L503.25 73.4 L503.75 73.6 L504.25 75.8 L504.75 75.7 L505.25 73.1 L505.75 73.2 L506.25 76.9 L506.75 77.3 L507.25 76.7 L507.75 69.5 L508.25 69.5 L508.75 69.5 L509.25 69.5 L509.75 69.5 L510.25 69.5 L510.75 73.2 L511.25 74.1 L511.75 75.2 L512.25 74.4 L512.75 74.3 L513.25 74.3 L513.75 74.4 L514.25 76.0 L514.75 76.3 L515.25 77.3 L515.75 69.5 L516.25 69.5 L516.75 69.5 L517.25 69.5 L517.75 69.5 L518.25 69.5 L518.75 73.2 L519.25 74.1 L519.75 74.4 L520.25 73.1 L520.75 73.0 L521.25 73.0 L521.75 72.9 L522.25 72.3 L522.75 72.5 L523.25 74.4 L523.75 74.2 L524.25 70.2 L524.75 70.5 L525.25 76.6 L525.75 77.4 L526.25 77.4 L526.25 109.1 L525.75 107.3 L525.25 107.1 L524.75 107.1 L524.25 106.7 L523.75 104.1 L523.25 104.0 L522.75 105.7 L522.25 106.2 L521.75 109.0 L521.25 109.4 L520.75 109.4 L520.25 109.4 L519.75 109.4 L519.25 109.4 L518.75 109.4 L518.25 109.0 L517.75 105.7 L517.25 105.1 L516.75 104.0 L516.25 104.0 L515.75 105.8 L515.25 105.8 L514.75 104.0 L514.25 104.4 L513.75 108.8 L513.25 109.2 L512.75 108.1 L512.25 108.1 L511.75 109.2 L511.25 109.4 L510.75 109.0 L510.25 109.0 L509.75 109.0 L509.25 109.0 L508.75 109.4 L508.25 108.8 L507.75 104.5 L507.25 103.9 L506.75 103.8 L506.25 103.8 L505.75 103.8 L505.25 104.0 L504.75 105.4 L504.25 105.5 L503.75 105.3 L503.25 105.1 L502.75 104.3 L502.25 104.6 L501.75 108.2 L501.25 108.6 L500.75 108.6 L500.25 108.1 L499.75 104.3 L499.25 104.2 L498.75 106.9 L498.25 106.9 L497.75 104.2 L497.25 104.1 L496.75 106.0 L496.25 111.3 L495.75 116.8 L495.25 136.0 L494.75 136.0 L494.25 136.0 L493.75 136.0 L493.25 116.8 L492.75 107.8 L492.25 108.2 L491.75 108.0 L491.25 107.8 L490.75 106.3 L490.25 105.9 L489.75 104.1 L489.25 103.8 L488.75 103.8 L488.25 104.1 L487.75 106.8 L487.25 106.8 L486.75 104.6 L486.25 104.2 L485.75 103.9 L485.25 103.8 L484.75 103.8 L484.25 104.2 L483.75 107.0 L483.25 107.4 L482.75 107.4 L482.25 107.6 L481.75 109.2 L481.25 109.2 L480.75 107.5 L480.25 107.1 L479.75 105.7 L479.25 105.9 L478.75 109.0 L478.25 109.2 L477.75 108.0 L477.25 108.0 L476.75 109.2 L476.25 108.9 L475.75 105.1 L475.25 104.8 L474.75 106.2 L474.25 106.4 L473.75 106.6 L473.25 106.7 L472.75 106.7 L472.25 106.4 L471.75 104.1 L471.25 103.9 L470.75 104.3 L470.25 104.4 L469.75 104.4 L469.25 104.3 L468.75 103.9 L468.25 103.9 L467.75 104.7 L467.25 104.8 L466.75 104.7 L466.25 104.6 L465.75 103.9 L465.25 104.4 L464.75 108.8 L464.25 108.8 L463.75 104.4 L463.25 104.3 L462.75 107.7 L462.25 108.2 L461.75 108.2 L461.25 108.0 L460.75 107.0 L460.25 107.1 L459.75 109.1 L459.25 109.4 L458.75 109.4 L458.25 109.4 L457.75 109.4 L457.25 108.8 L456.75 104.4 L456.25 103.8 L455.75 103.8 L455.25 103.8 L454.75 103.8 L454.25 104.1 L453.75 106.0 L453.25 106.3 L452.75 106.1 L452.25 106.1 L451.75 106.1 L451.25 106.4 L450.75 109.1 L450.25 109.0 L449.75 106.1 L449.25 105.5 L448.75 104.0 L448.25 103.8 L447.75 103.8 L447.25 104.3 L446.75 108.1 L446.25 108.1 L445.75 104.3 L445.25 103.8 L444.75 103.8 L444.25 104.3 L443.75 107.9 L443.25 108.3 L442.75 108.3 L442.25 107.9 L441.75 104.3 L441.25 103.8 L440.75 103.8 L440.25 104.4 L439.75 108.8 L439.25 108.8 L438.75 104.4 L438.25 103.8 L437.75 103.8 L437.25 103.8 L436.75 103.8 L436.25 103.9 L435.75 104.6 L435.25 105.1 L434.75 107.9 L434.25 108.2 L433.75 108.2 L433.25 107.8 L432.75 104.3 L432.25 103.8 L431.75 109.9 L431.25 115.3 L430.75 121.0 L430.25 127.0 L429.75 131.0 L429.25 133.0 L428.75 135.0 L428.25 137.1 L427.75 139.2 L427.25 141.4 L426.75 143.4 L426.25 145.3 L425.75 147.2 L425.25 149.1 L424.75 153.7 L424.25 159.0 L423.75 159.0 L423.25 156.1 L422.75 152.0 L422.25 149.4 L421.75 148.2 L421.25 147.1 L420.75 146.0 L420.25 145.0 L419.75 144.0 L419.25 143.7 L418.75 144.0 L418.25 144.3 L417.75 142.2 L417.25 137.6 L416.75 132.9 L416.25 128.3 L415.75 124.1 L415.25 120.4 L414.75 116.6 L414.25 112.9 L413.75 108.9 L413.25 109.4 L412.75 109.4 L412.25 109.1 L411.75 107.0 L411.25 107.0 L410.75 109.1 L410.25 109.4 L409.75 109.4 L409.25 108.8 L408.75 104.4 L408.25 103.8 L407.75 103.8 L407.25 104.3 L406.75 108.0 L406.25 108.1 L405.75 105.3 L405.25 105.4 L404.75 108.9 L404.25 108.8 L403.75 104.4 L403.25 105.1 L402.75 107.2 L402.25 110.6 L401.75 113.0 L401.25 113.0 L400.75 113.0 L400.25 113.0 L399.75 113.0 L399.25 113.0 L398.75 113.0 L398.25 113.0 L397.75 113.0 L397.25 113.0 L396.75 107.6 L396.25 103.8 L395.75 104.0 L395.25 104.0 L394.75 104.0 L394.25 104.1 L393.75 105.0 L393.25 105.0 L392.75 104.0 L392.25 103.9 L391.75 104.4 L391.25 104.4 L390.75 103.9 L390.25 104.4 L389.75 108.8 L389.25 109.4 L388.75 109.1 L388.25 109.1 L387.75 109.1 L387.25 108.6 L386.75 104.4 L386.25 103.8 L385.75 103.8 L385.25 108.8 L384.75 114.9 L384.25 133.8 L383.75 137.0 L383.25 137.0 L382.75 137.0 L382.25 137.0 L381.75 106.9 L381.25 107.0 L380.75 105.3 L380.25 105.1 L379.75 105.4 L379.25 105.5 L378.75 105.5 L378.25 105.4 L377.75 105.0 L377.25 104.8 L376.75 103.9 L376.25 103.8 L375.75 103.8 L375.25 103.8 L374.75 103.8 L374.25 103.8 L373.75 103.8 L373.25 103.9 L372.75 104.5 L372.25 104.5 L371.75 103.9 L371.25 103.8 L370.75 103.8 L370.25 103.8 L369.75 103.8 L369.25 103.8 L368.75 103.8 L368.25 104.2 L367.75 107.5 L367.25 107.5 L366.75 106.7 L366.25 110.0 L365.75 110.0 L365.25 110.0 L364.75 110.0 L364.25 104.0 L363.75 103.8 L363.25 104.0 L362.75 105.0 L362.25 105.0 L361.75 104.0 L361.25 103.8 L360.75 103.8 L360.25 103.8 L359.75 103.8 L359.25 104.1 L358.75 106.5 L358.25 106.8 L357.75 106.8 L357.25 106.7 L356.75 105.9 L356.25 105.7 L355.75 105.7 L355.25 105.6 L354.75 104.0 L354.25 103.8 L353.75 103.8 L353.25 103.8 L352.75 103.8 L352.25 103.9 L351.75 104.3 L351.25 104.5 L350.75 106.2 L350.25 106.1 L349.75 104.1 L349.25 103.8 L348.75 103.8 L348.25 103.8 L347.75 103.8 L347.25 104.0 L346.75 105.3 L346.25 105.4 L345.75 104.3 L345.25 104.2 L344.75 103.9 L344.25 103.8 L343.75 103.8 L343.25 103.8 L342.75 103.8 L342.25 103.8 L341.75 103.8 L341.25 103.8 L340.75 103.8 L340.25 104.0 L339.75 105.1 L339.25 105.2 L338.75 105.0 L338.25 104.8 L337.75 104.3 L337.25 104.2 L336.75 104.4 L336.25 104.4 L335.75 104.4 L335.25 104.6 L334.75 106.3 L334.25 106.5 L333.75 106.8 L333.25 106.7 L332.75 105.0 L332.25 104.8 L331.75 104.8 L331.25 105.3 L330.75 108.9 L330.25 109.4 L329.75 109.4 L329.25 108.9 L328.75 104.6 L328.25 104.0 L327.75 104.0 L327.25 104.0 L326.75 103.8 L326.25 103.9 L325.75 104.8 L325.25 104.9 L324.75 104.9 L324.25 104.9 L323.75 104.9 L323.25 104.8 L322.75 103.9 L322.25 103.8 L321.75 103.8 L321.25 103.8 L320.75 108.5 L320.25 114.0 L319.75 118.0 L319.25 122.0 L318.75 126.1 L318.25 130.4 L317.75 134.1 L317.25 137.4 L316.75 141.7 L316.25 144.9 L315.75 142.9 L315.25 141.0 L314.75 139.4 L314.25 138.1 L313.75 136.9 L313.25 135.6 L312.75 134.3 L312.25 133.0 L311.75 131.7 L311.25 130.6 L310.75 129.8 L310.25 128.9 L309.75 129.2 L309.25 130.8 L308.75 132.2 L308.25 133.9 L307.75 135.8 L307.25 137.6 L306.75 137.6 L306.25 135.7 L305.75 133.8 L305.25 131.9 L304.75 129.8 L304.25 127.3 L303.75 124.8 L303.25 122.3 L302.75 158.0 L302.25 158.0 L301.75 103.8 L301.25 103.8 L300.75 103.8 L300.25 103.8 L299.75 103.8 L299.25 103.8 L298.75 103.8 L298.25 103.8 L297.75 103.8 L297.25 104.0 L296.75 105.8 L296.25 105.8 L295.75 104.0 L295.25 103.8 L294.75 103.8 L294.25 103.8 L293.75 103.8 L293.25 103.8 L292.75 103.8 L292.25 106.0 L291.75 110.3 L291.25 118.6 L290.75 124.4 L290.25 124.4 L289.75 124.4 L289.25 124.4 L288.75 112.2 L288.25 105.1 L287.75 104.4 L287.25 104.3 L286.75 103.9 L286.25 103.8 L285.75 103.8 L285.25 103.8 L284.75 103.8 L284.25 103.8 L283.75 103.8 L283.25 103.8 L282.75 103.8 L282.25 103.8 L281.75 103.8 L281.25 103.8 L280.75 103.8 L280.25 104.0 L279.75 105.8 L279.25 106.4 L278.75 109.1 L278.25 109.0 L277.75 105.5 L277.25 105.1 L276.75 106.1 L276.25 106.2 L275.75 106.2 L275.25 106.1 L274.75 104.9 L274.25 107.5 L273.75 116.2 L273.25 133.4 L272.75 145.6 L272.25 145.6 L271.75 145.6 L271.25 145.6 L270.75 106.2 L270.25 106.2 L269.75 104.1 L269.25 103.8 L268.75 103.8 L268.25 103.8 L267.75 103.8 L267.25 103.9 L266.75 104.4 L266.25 104.5 L265.75 104.5 L265.25 104.4 L264.75 104.1 L264.25 104.3 L263.75 106.7 L263.25 107.1 L262.75 107.1 L262.25 106.7 L261.75 104.1 L261.25 104.0 L260.75 105.0 L260.25 105.0 L259.75 104.0 L259.25 103.8 L258.75 103.8 L258.25 103.8 L257.75 103.8 L257.25 103.8 L256.75 103.8 L256.25 103.8 L255.75 103.8 L255.25 103.8 L254.75 103.8 L254.25 104.2 L253.75 107.5 L253.25 107.8 L252.75 107.0 L252.25 106.6 L251.75 104.5 L251.25 104.2 L250.75 104.3 L250.25 104.5 L249.75 105.4 L249.25 105.6 L248.75 105.6 L248.25 105.4 L247.75 104.0 L247.25 104.0 L246.75 105.4 L246.25 105.5 L245.75 105.5 L245.25 105.4 L244.75 104.0 L244.25 104.0 L243.75 105.6 L243.25 105.8 L242.75 105.8 L242.25 106.0 L241.75 107.9 L241.25 108.2 L240.75 108.2 L240.25 107.7 L239.75 104.3 L239.25 104.1 L238.75 106.0 L238.25 106.2 L237.75 106.2 L237.25 106.4 L236.75 108.1 L236.25 108.0 L235.75 106.0 L235.25 105.5 L234.75 104.0 L234.25 103.9 L233.75 104.3 L233.25 104.6 L232.75 106.3 L232.25 106.5 L231.75 106.5 L231.25 106.3 L230.75 104.1 L230.25 104.3 L229.75 108.1 L229.25 108.6 L228.75 108.6 L228.25 108.1 L227.75 104.3 L227.25 103.8 L226.75 103.9 L226.25 104.1 L225.75 106.5 L225.25 106.7 L224.75 106.7 L224.25 106.6 L223.75 105.9 L223.25 105.7 L222.75 104.8 L222.25 104.9 L221.75 106.3 L221.25 106.4 L220.75 105.9 L220.25 105.9 L219.75 105.9 L219.25 105.7 L218.75 104.1 L218.25 103.9 L217.75 103.8 L217.25 104.3 L216.75 107.9 L216.25 108.3 L215.75 108.3 L215.25 107.9 L214.75 104.3 L214.25 103.9 L213.75 103.8 L213.25 103.8 L212.75 103.8 L212.25 103.9 L211.75 104.7 L211.25 107.5 L210.75 120.2 L210.25 120.8 L209.75 122.3 L209.25 125.0 L208.75 127.6 L208.25 130.5 L207.75 135.7 L207.25 140.9 L206.75 143.4 L206.25 143.3 L205.75 143.2 L205.25 143.1 L204.75 142.7 L204.25 142.1 L203.75 133.0 L203.25 133.0 L202.75 134.1 L202.25 139.4 L201.75 139.2 L201.25 138.9 L200.75 138.7 L200.25 138.5 L199.75 138.2 L199.25 138.0 L198.75 131.6 L198.25 129.5 L197.75 133.2 L197.25 137.4 L196.75 138.8 L196.25 143.1 L195.75 143.2 L195.25 143.4 L194.75 142.9 L194.25 141.6 L193.75 137.4 L193.25 130.1 L192.75 122.9 L192.25 115.6 L191.75 109.5 L191.25 107.6 L190.75 107.2 L190.25 106.8 L189.75 104.5 L189.25 104.2 L188.75 103.9 L188.25 104.0 L187.75 105.2 L187.25 105.4 L186.75 105.9 L186.25 106.1 L185.75 107.4 L185.25 107.7 L184.75 109.0 L184.25 109.1 L183.75 109.1 L183.25 108.6 L182.75 104.4 L182.25 104.3 L181.75 108.1 L181.25 108.5 L180.75 107.7 L180.25 107.2 L179.75 104.3 L179.25 104.1 L178.75 108.0 L178.25 111.2 L177.75 123.0 L177.25 123.0 L176.75 123.0 L176.25 123.0 L175.75 119.2 L175.25 103.8 L174.75 103.8 L174.25 103.8 L173.75 103.8 L173.25 103.8 L172.75 103.8 L172.25 104.2 L171.75 107.0 L171.25 107.5 L170.75 108.2 L170.25 108.0 L169.75 105.7 L169.25 105.6 L168.75 107.2 L168.25 107.1 L167.75 105.0 L167.25 104.8 L166.75 105.4 L166.25 105.5 L165.75 105.2 L165.25 105.2 L164.75 105.2 L164.25 105.1 L163.75 104.7 L163.25 104.6 L162.75 104.4 L162.25 107.0 L161.75 108.8 L161.25 115.0 L160.75 115.0 L160.25 115.0 L159.75 115.0 L159.25 108.4 L158.75 108.8 L158.25 109.2 L157.75 108.0 L157.25 107.8 L156.75 107.8 L156.25 107.4 L155.75 104.2 L155.25 104.2 L154.75 107.5 L154.25 107.9 L153.75 107.9 L153.25 107.9 L152.75 107.9 L152.25 107.4 L151.75 104.2 L151.25 103.8 L150.75 103.8 L150.25 104.2 L149.75 107.7 L149.25 107.7 L148.75 104.5 L148.25 104.1 L147.75 104.1 L147.25 104.4 L146.75 106.6 L146.25 106.6 L145.75 104.3 L145.25 104.3 L144.75 106.1 L144.25 106.2 L143.75 104.6 L143.25 104.8 L142.75 107.5 L142.25 107.8 L141.75 107.8 L141.25 107.8 L140.75 108.1 L140.25 108.1 L139.75 108.1 L139.25 108.2 L138.75 108.5 L138.25 108.4 L137.75 107.5 L137.25 107.3 L136.75 107.3 L136.25 107.1 L135.75 105.0 L135.25 104.6 L134.75 103.9 L134.25 103.8 L133.75 103.8 L133.25 103.9 L132.75 104.1 L132.25 104.1 L131.75 104.1 L131.25 104.1 L130.75 103.9 L130.25 104.3 L129.75 108.1 L129.25 108.2 L128.75 105.2 L128.25 104.7 L127.75 103.9 L127.25 104.4 L126.75 108.8 L126.25 109.4 L125.75 109.4 L125.25 108.9 L124.75 104.6 L124.25 104.3 L123.75 105.4 L123.25 105.5 L122.75 105.1 L122.25 105.1 L121.75 105.8 L121.25 105.9 L120.75 105.9 L120.25 105.8 L119.75 104.9 L119.25 104.7 L118.75 103.9 L118.25 104.2 L117.75 107.2 L117.25 107.6 L116.75 107.6 L116.25 107.5 L115.75 107.1 L115.25 106.8 L114.75 104.2 L114.25 103.8 L113.75 103.8 L113.25 104.2 L112.75 107.7 L112.25 108.1 L111.75 108.1 L111.25 107.9 L110.75 106.9 L110.25 106.5 L109.75 104.1 L109.25 104.3 L108.75 108.1 L108.25 108.3 L107.75 106.2 L107.25 105.8 L106.75 104.0 L106.25 103.8 L105.75 103.8 L105.25 103.8 L104.75 103.8 L104.25 103.8 L103.75 103.8 L103.25 103.8 L102.75 103.8 L102.25 103.8 L101.75 103.8 L101.25 104.4 L100.75 108.6 L100.25 108.6 L99.75 104.4 L99.25 104.4 L98.75 126.9 L98.25 141.3 L97.75 143.1 L97.25 145.0 L96.75 147.0 L96.25 148.2 L95.75 148.8 L95.25 149.2 L94.75 149.0 L94.25 148.0 L93.75 147.0 L93.25 146.0 L92.75 145.1 L92.25 144.2 L91.75 143.4 L91.25 142.5 L90.75 141.5 L90.25 140.5 L89.75 138.7 L89.25 136.0 L88.75 133.3 L88.25 131.5 L87.75 130.5 L87.25 129.5 L86.75 128.5 L86.25 127.0 L85.75 125.0 L85.25 123.5 L84.75 124.9 L84.25 126.3 L83.75 126.8 L83.25 125.8 L82.75 123.2 L82.25 120.6 L81.75 117.9 L81.25 115.1 L80.75 112.4 L80.25 108.9 L79.75 105.5 L79.25 105.7 L78.75 107.4 L78.25 107.2 L77.75 104.2 L77.25 103.9 L76.75 104.7 L76.25 104.7 L75.75 103.9 L75.25 103.8 L74.75 103.8 L74.25 103.8 L73.75 103.8 L73.25 103.8 L72.75 103.8 L72.25 103.8Z" fill="#ff0000" stroke="#ff0000" stroke-width="0.5" stroke-linejoin="round"/>
<path d="M72.25 86.6 L72.75 86.3 L73.25 85.4 L73.75 85.8 L74.25 85.0 L74.75 85.2 L75.25 84.6 L75.75 84.8 L76.25 84.5 L76.75 84.5 L77.25 84.7 L77.75 84.3 L78.25 84.5 L78.75 83.9 L79.25 84.7 L79.75 84.5 L80.25 84.4 L80.75 86.8 L81.25 136.5 L81.75 181.5 L82.25 220.4 L82.75 256.1 L83.25 257.3 L83.75 257.3 L84.25 257.8 L84.75 258.1 L85.25 258.2 L85.75 259.1 L86.25 259.3 L86.75 259.9 L87.25 260.0 L87.75 261.1 L88.25 260.3 L88.75 261.1 L89.25 260.5 L89.75 260.6 L90.25 260.9 L90.75 260.4 L91.25 260.1 L91.75 260.2 L92.25 260.5 L92.75 261.2 L93.25 260.8 L93.75 260.9 L94.25 260.8 L94.75 260.5 L95.25 260.2 L95.75 259.7 L96.25 259.2 L96.75 219.3 L97.25 167.6 L97.75 86.8 L98.25 85.3 L98.75 85.1 L99.25 85.6 L99.75 84.8 L100.25 84.0 L100.75 84.2 L101.25 84.3 L101.75 85.8 L102.25 85.6 L102.75 85.5 L103.25 85.2 L103.75 85.2 L104.25 85.6 L104.75 86.2 L105.25 85.1 L105.75 85.0 L106.25 85.8 L106.75 85.9 L107.25 86.2 L107.75 85.8 L108.25 86.6 L108.75 86.0 L109.25 86.5 L109.75 86.7 L110.25 85.7 L110.75 85.4 L111.25 85.9 L111.75 86.5 L112.25 86.5 L112.75 86.2 L113.25 86.3 L113.75 85.8 L114.25 85.7 L114.75 85.7 L115.25 85.8 L115.75 85.6 L116.25 85.0 L116.75 85.2 L117.25 84.5 L117.75 84.9 L118.25 84.5 L118.75 84.4 L119.25 83.9 L119.75 84.2 L120.25 84.5 L120.75 84.5 L121.25 84.8 L121.75 85.2 L122.25 85.4 L122.75 85.2 L123.25 86.8 L123.75 86.5 L124.25 85.5 L124.75 84.6 L125.25 86.2 L125.75 86.1 L126.25 86.0 L126.75 86.4 L127.25 85.7 L127.75 85.3 L128.25 85.7 L128.75 85.8 L129.25 86.2 L129.75 86.3 L130.25 86.1 L130.75 85.4 L131.25 85.3 L131.75 85.1 L132.25 85.9 L132.75 86.3 L133.25 85.9 L133.75 85.9 L134.25 85.2 L134.75 85.4 L135.25 85.4 L135.75 85.3 L136.25 85.3 L136.75 85.7 L137.25 84.6 L137.75 86.2 L138.25 85.9 L138.75 85.6 L139.25 85.6 L139.75 86.1 L140.25 85.9 L140.75 86.6 L141.25 85.6 L141.75 85.8 L142.25 85.5 L142.75 85.4 L143.25 85.1 L143.75 85.8 L144.25 85.6 L144.75 85.4 L145.25 86.1 L145.75 85.7 L146.25 85.9 L146.75 85.4 L147.25 85.7 L147.75 85.7 L148.25 86.0 L148.75 85.2 L149.25 85.9 L149.75 84.8 L150.25 85.5 L150.75 85.4 L151.25 84.9 L151.75 85.3 L152.25 85.5 L152.75 85.8 L153.25 85.1 L153.75 85.3 L154.25 86.2 L154.75 85.3 L155.25 85.9 L155.75 85.1 L156.25 84.8 L156.75 85.0 L157.25 84.8 L157.75 85.1 L158.25 85.2 L158.75 85.2 L159.25 84.9 L159.75 84.8 L160.25 85.7 L160.75 85.3 L161.25 85.1 L161.75 85.0 L162.25 85.4 L162.75 84.9 L163.25 84.9 L163.75 85.3 L164.25 84.3 L164.75 85.0 L165.25 85.0 L165.75 84.9 L166.25 85.9 L166.75 85.6 L167.25 86.5 L167.75 85.5 L168.25 85.3 L168.75 85.5 L169.25 86.0 L169.75 86.0 L170.25 86.5 L170.75 86.1 L171.25 86.5 L171.75 86.4 L172.25 85.5 L172.75 85.5 L173.25 86.6 L173.75 85.9 L174.25 85.8 L174.75 85.8 L175.25 85.5 L175.75 84.7 L176.25 85.3 L176.75 86.0 L177.25 85.3 L177.75 85.7 L178.25 85.6 L178.75 86.0 L179.25 85.3 L179.75 85.5 L180.25 85.9 L180.75 85.8 L181.25 85.1 L181.75 85.9 L182.25 86.2 L182.75 85.8 L183.25 85.7 L183.75 84.9 L184.25 85.5 L184.75 85.8 L185.25 85.0 L185.75 84.9 L186.25 85.3 L186.75 85.0 L187.25 84.8 L187.75 85.2 L188.25 85.5 L188.75 85.7 L189.25 86.2 L189.75 85.8 L190.25 86.2 L190.75 85.6 L191.25 85.9 L191.75 86.3 L192.25 86.8 L192.75 132.8 L193.25 172.7 L193.75 207.1 L194.25 238.8 L194.75 257.8 L195.25 257.9 L195.75 257.6 L196.25 258.8 L196.75 258.0 L197.25 258.0 L197.75 259.4 L198.25 259.2 L198.75 259.4 L199.25 259.5 L199.75 259.3 L200.25 259.9 L200.75 260.6 L201.25 259.0 L201.75 259.9 L202.25 258.9 L202.75 259.3 L203.25 259.0 L203.75 258.9 L204.25 259.3 L204.75 259.8 L205.25 259.7 L205.75 259.9 L206.25 259.8 L206.75 259.9 L207.25 257.5 L207.75 219.1 L208.25 177.1 L208.75 127.0 L209.25 86.8 L209.75 86.2 L210.25 85.9 L210.75 85.2 L211.25 85.2 L211.75 86.3 L212.25 86.0 L212.75 86.7 L213.25 87.4 L213.75 86.1 L214.25 85.1 L214.75 85.8 L215.25 86.4 L215.75 86.4 L216.25 85.8 L216.75 84.9 L217.25 85.6 L217.75 85.9 L218.25 85.3 L218.75 85.7 L219.25 86.1 L219.75 86.0 L220.25 86.1 L220.75 85.8 L221.25 85.7 L221.75 85.2 L222.25 84.4 L222.75 85.8 L223.25 85.9 L223.75 84.8 L224.25 85.6 L224.75 84.2 L225.25 84.2 L225.75 85.1 L226.25 85.2 L226.75 85.3 L227.25 85.4 L227.75 84.8 L228.25 85.2 L228.75 85.1 L229.25 85.6 L229.75 85.0 L230.25 85.9 L230.75 84.8 L231.25 86.3 L231.75 85.9 L232.25 85.4 L232.75 85.1 L233.25 86.1 L233.75 85.0 L234.25 85.0 L234.75 85.5 L235.25 85.7 L235.75 84.9 L236.25 84.2 L236.75 84.6 L237.25 84.8 L237.75 85.3 L238.25 86.6 L238.75 86.1 L239.25 85.6 L239.75 86.6 L240.25 87.1 L240.75 87.1 L241.25 86.3 L241.75 86.4 L242.25 87.0 L242.75 85.4 L243.25 85.8 L243.75 85.9 L244.25 85.7 L244.75 84.9 L245.25 84.8 L245.75 85.6 L246.25 86.1 L246.75 85.2 L247.25 85.5 L247.75 84.8 L248.25 84.9 L248.75 84.5 L249.25 85.1 L249.75 84.9 L250.25 85.1 L250.75 85.2 L251.25 85.5 L251.75 85.6 L252.25 84.8 L252.75 85.9 L253.25 85.2 L253.75 85.7 L254.25 85.0 L254.75 85.0 L255.25 84.6 L255.75 85.1 L256.25 84.6 L256.75 85.1 L257.25 84.3 L257.75 84.4 L258.25 84.3 L258.75 84.4 L259.25 83.9 L259.75 83.6 L260.25 84.6 L260.75 85.4 L261.25 84.2 L261.75 84.5 L262.25 84.7 L262.75 84.5 L263.25 84.6 L263.75 85.6 L264.25 85.3 L264.75 84.3 L265.25 84.7 L265.75 84.7 L266.25 85.2 L266.75 84.9 L267.25 85.0 L267.75 85.2 L268.25 85.3 L268.75 84.2 L269.25 84.9 L269.75 85.1 L270.25 85.0 L270.75 84.7 L271.25 84.8 L271.75 85.3 L272.25 84.7 L272.75 84.9 L273.25 84.8 L273.75 84.9 L274.25 84.4 L274.75 85.6 L275.25 85.1 L275.75 85.0 L276.25 85.7 L276.75 87.3 L277.25 86.0 L277.75 86.7 L278.25 86.0 L278.75 86.2 L279.25 85.1 L279.75 85.4 L280.25 85.5 L280.75 84.4 L281.25 84.4 L281.75 85.0 L282.25 84.9 L282.75 84.7 L283.25 84.9 L283.75 85.8 L284.25 85.1 L284.75 85.8 L285.25 86.2 L285.75 84.9 L286.25 85.8 L286.75 85.9 L287.25 85.6 L287.75 86.4 L288.25 85.7 L288.75 86.4 L289.25 86.2 L289.75 85.9 L290.25 86.5 L290.75 86.0 L291.25 85.9 L291.75 86.6 L292.25 85.8 L292.75 84.6 L293.25 85.0 L293.75 84.7 L294.25 84.7 L294.75 85.2 L295.25 84.7 L295.75 85.4 L296.25 85.3 L296.75 85.0 L297.25 86.2 L297.75 86.0 L298.25 86.7 L298.75 85.8 L299.25 85.0 L299.75 85.5 L300.25 85.2 L300.75 85.3 L301.25 85.3 L301.75 85.8 L302.25 85.2 L302.75 86.3 L303.25 86.8 L303.75 113.8 L304.25 167.4 L304.75 210.0 L305.25 248.6 L305.75 258.3 L306.25 258.6 L306.75 258.2 L307.25 258.7 L307.75 259.7 L308.25 260.4 L308.75 261.7 L309.25 262.9 L309.75 264.1 L310.25 263.2 L310.75 262.4 L311.25 261.7 L311.75 261.5 L312.25 260.5 L312.75 260.5 L313.25 260.3 L313.75 259.9 L314.25 257.9 L314.75 258.6 L315.25 257.8 L315.75 258.0 L316.25 257.8 L316.75 257.2 L317.25 257.1 L317.75 257.3 L318.25 256.9 L318.75 256.5 L319.25 237.3 L319.75 192.8 L320.25 141.2 L320.75 86.8 L321.25 85.9 L321.75 85.3 L322.25 85.9 L322.75 85.4 L323.25 84.9 L323.75 84.7 L324.25 85.7 L324.75 85.5 L325.25 85.2 L325.75 85.7 L326.25 84.9 L326.75 86.1 L327.25 86.0 L327.75 86.2 L328.25 86.5 L328.75 86.2 L329.25 84.9 L329.75 85.8 L330.25 85.1 L330.75 85.8 L331.25 85.3 L331.75 85.4 L332.25 84.9 L332.75 85.3 L333.25 85.5 L333.75 85.5 L334.25 86.0 L334.75 86.8 L335.25 86.6 L335.75 85.4 L336.25 85.8 L336.75 85.8 L337.25 85.5 L337.75 86.1 L338.25 86.4 L338.75 85.7 L339.25 84.7 L339.75 85.6 L340.25 85.1 L340.75 85.2 L341.25 85.6 L341.75 85.3 L342.25 85.5 L342.75 85.8 L343.25 86.8 L343.75 87.2 L344.25 87.2 L344.75 85.9 L345.25 86.2 L345.75 86.1 L346.25 86.9 L346.75 85.9 L347.25 85.6 L347.75 86.1 L348.25 85.7 L348.75 86.1 L349.25 86.9 L349.75 86.0 L350.25 86.0 L350.75 86.1 L351.25 84.7 L351.75 85.0 L352.25 85.1 L352.75 85.6 L353.25 84.8 L353.75 85.0 L354.25 85.0 L354.75 85.9 L355.25 85.5 L355.75 86.7 L356.25 86.4 L356.75 86.1 L357.25 85.8 L357.75 85.8 L358.25 85.6 L358.75 85.4 L359.25 84.6 L359.75 84.6 L360.25 85.4 L360.75 85.1 L361.25 84.7 L361.75 84.8 L362.25 84.9 L362.75 84.7 L363.25 85.1 L363.75 85.2 L364.25 85.8 L364.75 86.2 L365.25 86.8 L365.75 86.4 L366.25 87.1 L366.75 87.6 L367.25 86.7 L367.75 86.7 L368.25 86.3 L368.75 86.4 L369.25 86.1 L369.75 85.6 L370.25 85.7 L370.75 85.1 L371.25 85.0 L371.75 85.9 L372.25 85.8 L372.75 85.5 L373.25 84.4 L373.75 84.1 L374.25 84.4 L374.75 84.3 L375.25 83.9 L375.75 84.3 L376.25 84.7 L376.75 85.4 L377.25 85.2 L377.75 85.4 L378.25 85.1 L378.75 85.2 L379.25 85.4 L379.75 85.5 L380.25 85.5 L380.75 86.6 L381.25 86.8 L381.75 86.4 L382.25 87.0 L382.75 86.7 L383.25 86.9 L383.75 85.9 L384.25 86.4 L384.75 86.3 L385.25 85.7 L385.75 85.7 L386.25 85.2 L386.75 84.5 L387.25 84.6 L387.75 85.2 L388.25 85.4 L388.75 85.2 L389.25 84.4 L389.75 84.4 L390.25 84.9 L390.75 85.0 L391.25 84.8 L391.75 85.2 L392.25 84.9 L392.75 84.1 L393.25 85.1 L393.75 84.8 L394.25 85.2 L394.75 85.4 L395.25 85.7 L395.75 85.8 L396.25 85.6 L396.75 86.1 L397.25 86.8 L397.75 85.6 L398.25 86.1 L398.75 86.9 L399.25 86.0 L399.75 86.5 L400.25 86.9 L400.75 86.5 L401.25 86.9 L401.75 86.5 L402.25 85.9 L402.75 85.8 L403.25 85.1 L403.75 85.1 L404.25 84.8 L404.75 84.7 L405.25 84.9 L405.75 84.8 L406.25 84.7 L406.75 85.6 L407.25 85.1 L407.75 86.8 L408.25 86.4 L408.75 86.7 L409.25 85.7 L409.75 86.0 L410.25 84.5 L410.75 85.3 L411.25 85.7 L411.75 84.2 L412.25 85.2 L412.75 84.2 L413.25 84.7 L413.75 86.1 L414.25 86.2 L414.75 86.8 L415.25 129.2 L415.75 184.2 L416.25 230.2 L416.75 258.1 L417.25 257.7 L417.75 258.6 L418.25 258.7 L418.75 259.0 L419.25 259.6 L419.75 259.7 L420.25 259.3 L420.75 259.6 L421.25 260.5 L421.75 260.5 L422.25 260.0 L422.75 260.0 L423.25 259.6 L423.75 258.6 L424.25 258.7 L424.75 259.3 L425.25 259.0 L425.75 259.6 L426.25 259.1 L426.75 259.1 L427.25 260.5 L427.75 259.7 L428.25 259.7 L428.75 259.5 L429.25 259.3 L429.75 259.4 L430.25 256.6 L430.75 213.0 L431.25 164.2 L431.75 86.8 L432.25 85.9 L432.75 85.4 L433.25 84.9 L433.75 85.0 L434.25 84.7 L434.75 85.4 L435.25 84.6 L435.75 83.9 L436.25 84.7 L436.75 84.7 L437.25 84.4 L437.75 84.9 L438.25 85.1 L438.75 85.1 L439.25 85.4 L439.75 86.2 L440.25 86.5 L440.75 86.8 L441.25 87.0 L441.75 87.1 L442.25 87.2 L442.75 86.1 L443.25 86.5 L443.75 86.4 L444.25 86.7 L444.75 86.5 L445.25 86.5 L445.75 86.1 L446.25 86.3 L446.75 86.0 L447.25 85.8 L447.75 86.3 L448.25 86.8 L448.75 85.9 L449.25 86.0 L449.75 86.0 L450.25 86.9 L450.75 86.4 L451.25 85.8 L451.75 86.1 L452.25 86.3 L452.75 85.9 L453.25 85.4 L453.75 85.7 L454.25 85.4 L454.75 85.1 L455.25 86.1 L455.75 86.0 L456.25 86.1 L456.75 85.6 L457.25 86.5 L457.75 86.0 L458.25 86.4 L458.75 85.5 L459.25 86.3 L459.75 86.1 L460.25 86.1 L460.75 86.6 L461.25 86.7 L461.75 87.2 L462.25 86.5 L462.75 86.3 L463.25 86.0 L463.75 86.1 L464.25 84.9 L464.75 84.9 L465.25 84.6 L465.75 84.9 L466.25 85.2 L466.75 84.5 L467.25 85.9 L467.75 86.3 L468.25 86.9 L468.75 86.2 L469.25 86.6 L469.75 86.4 L470.25 86.7 L470.75 86.6 L471.25 86.2 L471.75 86.6 L472.25 85.8 L472.75 86.0 L473.25 86.3 L473.75 85.8 L474.25 85.9 L474.75 86.1 L475.25 85.6 L475.75 85.7 L476.25 85.2 L476.75 85.7 L477.25 84.8 L477.75 84.9 L478.25 85.3 L478.75 85.3 L479.25 84.8 L479.75 84.8 L480.25 84.5 L480.75 85.8 L481.25 86.1 L481.75 85.0 L482.25 85.5 L482.75 85.7 L483.25 85.1 L483.75 85.8 L484.25 85.8 L484.75 85.4 L485.25 85.2 L485.75 85.1 L486.25 85.3 L486.75 86.4 L487.25 86.2 L487.75 86.2 L488.25 86.5 L488.75 85.6 L489.25 86.1 L489.75 85.0 L490.25 84.7 L490.75 85.2 L491.25 84.9 L491.75 85.3 L492.25 85.5 L492.75 85.2 L493.25 85.7 L493.75 84.9 L494.25 86.2 L494.75 85.5 L495.25 85.7 L495.75 85.0 L496.25 85.3 L496.75 84.3 L497.25 83.9 L497.75 84.6 L498.25 84.8 L498.75 84.4 L499.25 84.3 L499.75 84.2 L500.25 85.1 L500.75 84.9 L501.25 85.6 L501.75 85.6 L502.25 85.0 L502.75 85.1 L503.25 85.3 L503.75 85.1 L504.25 84.6 L504.75 85.6 L505.25 85.5 L505.75 85.2 L506.25 85.2 L506.75 85.0 L507.25 85.5 L507.75 85.7 L508.25 86.7 L508.75 85.6 L509.25 85.1 L509.75 84.7 L510.25 85.2 L510.75 84.9 L511.25 85.5 L511.75 84.3 L512.25 85.2 L512.75 85.5 L513.25 85.4 L513.75 85.3 L514.25 85.4 L514.75 85.0 L515.25 85.6 L515.75 84.5 L516.25 85.3 L516.75 85.6 L517.25 84.6 L517.75 84.9 L518.25 84.9 L518.75 84.0 L519.25 83.9 L519.75 84.9 L520.25 84.6 L520.75 85.5 L521.25 85.3 L521.75 85.9 L522.25 86.0 L522.75 86.1 L523.25 87.2 L523.75 86.9 L524.25 86.6 L524.75 86.6 L525.25 87.2 L525.75 85.9 L526.25 86.7 L526.25 88.7 L525.75 89.6 L525.25 88.9 L524.75 90.3 L524.25 90.3 L523.75 89.3 L523.25 88.8 L522.75 88.7 L522.25 89.3 L521.75 89.5 L521.25 88.2 L520.75 87.4 L520.25 87.6 L519.75 86.6 L519.25 87.1 L518.75 86.9 L518.25 86.9 L517.75 86.4 L517.25 86.7 L516.75 87.5 L516.25 88.1 L515.75 87.7 L515.25 87.1 L514.75 88.3 L514.25 87.7 L513.75 88.3 L513.25 88.3 L512.75 87.1 L512.25 87.3 L511.75 88.0 L511.25 88.1 L510.75 88.6 L510.25 88.2 L509.75 88.3 L509.25 88.1 L508.75 88.0 L508.25 88.4 L507.75 89.5 L507.25 88.5 L506.75 88.8 L506.25 87.7 L505.75 88.0 L505.25 88.0 L504.75 87.3 L504.25 88.0 L503.75 86.9 L503.25 86.9 L502.75 88.2 L502.25 88.7 L501.75 88.4 L501.25 88.0 L500.75 88.4 L500.25 88.3 L499.75 87.8 L499.25 87.4 L498.75 87.5 L498.25 87.1 L497.75 86.3 L497.25 87.5 L496.75 87.3 L496.25 87.1 L495.75 87.7 L495.25 88.9 L494.75 89.2 L494.25 87.8 L493.75 88.0 L493.25 87.9 L492.75 87.7 L492.25 87.1 L491.75 87.4 L491.25 88.0 L490.75 87.7 L490.25 88.4 L489.75 88.3 L489.25 88.2 L488.75 88.7 L488.25 88.3 L487.75 89.3 L487.25 88.7 L486.75 88.3 L486.25 88.4 L485.75 88.0 L485.25 88.4 L484.75 88.6 L484.25 88.0 L483.75 87.9 L483.25 88.6 L482.75 88.4 L482.25 88.7 L481.75 88.7 L481.25 87.6 L480.75 87.3 L480.25 87.4 L479.75 87.5 L479.25 87.7 L478.75 86.9 L478.25 86.8 L477.75 86.8 L477.25 87.6 L476.75 88.0 L476.25 87.8 L475.75 88.5 L475.25 89.3 L474.75 88.6 L474.25 89.0 L473.75 88.5 L473.25 88.8 L472.75 89.4 L472.25 89.3 L471.75 89.7 L471.25 90.0 L470.75 89.1 L470.25 88.8 L469.75 89.5 L469.25 90.0 L468.75 89.7 L468.25 88.9 L467.75 89.0 L467.25 88.0 L466.75 88.0 L466.25 87.0 L465.75 88.3 L465.25 88.3 L464.75 87.8 L464.25 88.2 L463.75 87.8 L463.25 88.2 L462.75 89.3 L462.25 89.4 L461.75 88.9 L461.25 88.5 L460.75 88.6 L460.25 89.7 L459.75 89.1 L459.25 88.4 L458.75 89.0 L458.25 87.9 L457.75 88.9 L457.25 88.6 L456.75 89.0 L456.25 88.7 L455.75 87.7 L455.25 88.0 L454.75 88.6 L454.25 88.5 L453.75 87.7 L453.25 88.4 L452.75 87.5 L452.25 88.1 L451.75 88.4 L451.25 88.8 L450.75 88.3 L450.25 88.4 L449.75 89.1 L449.25 89.4 L448.75 89.3 L448.25 88.8 L447.75 88.7 L447.25 88.6 L446.75 88.8 L446.25 88.8 L445.75 89.1 L445.25 89.7 L444.75 88.6 L444.25 88.9 L443.75 88.5 L443.25 89.2 L442.75 89.6 L442.25 89.3 L441.75 89.3 L441.25 89.0 L440.75 88.4 L440.25 89.1 L439.75 87.9 L439.25 88.7 L438.75 87.9 L438.25 87.9 L437.75 87.3 L437.25 87.3 L436.75 86.3 L436.25 86.5 L435.75 87.5 L435.25 86.9 L434.75 87.0 L434.25 87.5 L433.75 87.8 L433.25 87.4 L432.75 87.8 L432.25 88.1 L431.75 86.8 L431.25 164.2 L430.75 213.0 L430.25 256.6 L429.75 263.0 L429.25 262.5 L428.75 263.4 L428.25 263.2 L427.75 263.2 L427.25 264.3 L426.75 262.8 L426.25 263.1 L425.75 262.6 L425.25 262.4 L424.75 262.2 L424.25 262.3 L423.75 262.3 L423.25 263.3 L422.75 263.6 L422.25 263.3 L421.75 263.5 L421.25 263.5 L420.75 263.6 L420.25 262.2 L419.75 262.9 L419.25 262.6 L418.75 261.8 L418.25 262.0 L417.75 261.7 L417.25 261.7 L416.75 261.4 L416.25 230.2 L415.75 184.2 L415.25 129.2 L414.75 86.8 L414.25 87.9 L413.75 88.0 L413.25 88.0 L412.75 87.9 L412.25 86.9 L411.75 88.0 L411.25 87.3 L410.75 88.0 L410.25 87.9 L409.75 87.7 L409.25 88.0 L408.75 88.6 L408.25 89.2 L407.75 88.5 L407.25 88.4 L406.75 87.3 L406.25 87.2 L405.75 87.4 L405.25 87.5 L404.75 87.4 L404.25 87.8 L403.75 87.4 L403.25 88.4 L402.75 89.1 L402.25 89.0 L401.75 89.0 L401.25 88.8 L400.75 88.5 L400.25 88.5 L399.75 88.3 L399.25 89.3 L398.75 88.5 L398.25 88.9 L397.75 89.1 L397.25 88.6 L396.75 88.9 L396.25 89.0 L395.75 88.1 L395.25 88.5 L394.75 88.0 L394.25 87.3 L393.75 87.6 L393.25 87.4 L392.75 87.4 L392.25 86.7 L391.75 87.4 L391.25 87.9 L390.75 87.2 L390.25 87.6 L389.75 88.1 L389.25 88.1 L388.75 87.7 L388.25 87.8 L387.75 88.0 L387.25 88.1 L386.75 88.2 L386.25 87.9 L385.75 87.5 L385.25 89.0 L384.75 89.6 L384.25 89.2 L383.75 89.7 L383.25 89.0 L382.75 88.9 L382.25 88.7 L381.75 89.8 L381.25 89.4 L380.75 88.9 L380.25 88.5 L379.75 88.9 L379.25 88.8 L378.75 88.6 L378.25 88.6 L377.75 88.5 L377.25 87.7 L376.75 87.0 L376.25 86.5 L375.75 87.2 L375.25 87.2 L374.75 87.5 L374.25 86.8 L373.75 87.8 L373.25 87.6 L372.75 87.3 L372.25 87.7 L371.75 87.5 L371.25 88.7 L370.75 88.8 L370.25 88.3 L369.75 89.3 L369.25 89.2 L368.75 89.0 L368.25 89.2 L367.75 89.1 L367.25 89.9 L366.75 89.2 L366.25 89.2 L365.75 89.5 L365.25 88.7 L364.75 88.0 L364.25 87.8 L363.75 88.3 L363.25 87.8 L362.75 87.8 L362.25 87.4 L361.75 87.7 L361.25 88.1 L360.75 88.0 L360.25 87.2 L359.75 88.4 L359.25 88.4 L358.75 88.4 L358.25 89.0 L357.75 88.9 L357.25 89.1 L356.75 89.2 L356.25 88.6 L355.75 89.3 L355.25 89.0 L354.75 88.1 L354.25 87.7 L353.75 87.3 L353.25 87.9 L352.75 87.4 L352.25 86.7 L351.75 87.7 L351.25 87.8 L350.75 87.9 L350.25 88.7 L349.75 89.8 L349.25 88.6 L348.75 88.8 L348.25 88.8 L347.75 89.2 L347.25 89.3 L346.75 89.5 L346.25 88.7 L345.75 89.7 L345.25 89.5 L344.75 89.4 L344.25 89.3 L343.75 89.6 L343.25 89.1 L342.75 89.5 L342.25 89.0 L341.75 88.9 L341.25 88.0 L340.75 87.8 L340.25 88.7 L339.75 87.5 L339.25 87.7 L338.75 87.3 L338.25 88.0 L337.75 88.4 L337.25 89.0 L336.75 88.7 L336.25 89.1 L335.75 89.2 L335.25 88.3 L334.75 88.8 L334.25 88.9 L333.75 88.2 L333.25 87.6 L332.75 88.2 L332.25 87.9 L331.75 87.2 L331.25 87.8 L330.75 87.3 L330.25 88.0 L329.75 88.4 L329.25 88.4 L328.75 88.3 L328.25 88.1 L327.75 88.7 L327.25 88.4 L326.75 87.8 L326.25 88.6 L325.75 87.8 L325.25 87.6 L324.75 88.9 L324.25 88.4 L323.75 87.9 L323.25 87.5 L322.75 88.1 L322.25 87.7 L321.75 88.6 L321.25 88.2 L320.75 86.8 L320.25 141.2 L319.75 192.8 L319.25 237.3 L318.75 260.1 L318.25 260.3 L317.75 260.9 L317.25 260.7 L316.75 260.8 L316.25 261.0 L315.75 261.8 L315.25 261.0 L314.75 262.3 L314.25 261.5 L313.75 263.2 L313.25 263.1 L312.75 263.4 L312.25 264.1 L311.75 265.2 L311.25 264.9 L310.75 266.3 L310.25 266.1 L309.75 267.8 L309.25 266.0 L308.75 264.6 L308.25 264.1 L307.75 263.1 L307.25 262.1 L306.75 262.1 L306.25 261.8 L305.75 261.3 L305.25 248.6 L304.75 210.0 L304.25 167.4 L303.75 113.8 L303.25 86.8 L302.75 88.0 L302.25 88.4 L301.75 88.1 L301.25 88.7 L300.75 87.7 L300.25 88.8 L299.75 88.4 L299.25 88.7 L298.75 88.8 L298.25 88.6 L297.75 88.7 L297.25 88.3 L296.75 88.4 L296.25 88.0 L295.75 87.3 L295.25 87.9 L294.75 87.5 L294.25 87.7 L293.75 87.7 L293.25 88.0 L292.75 88.3 L292.25 88.3 L291.75 88.5 L291.25 89.0 L290.75 88.9 L290.25 89.0 L289.75 88.9 L289.25 88.6 L288.75 88.6 L288.25 88.4 L287.75 88.1 L287.25 87.5 L286.75 88.0 L286.25 88.8 L285.75 88.5 L285.25 87.8 L284.75 87.8 L284.25 88.6 L283.75 88.1 L283.25 87.4 L282.75 88.2 L282.25 87.6 L281.75 86.7 L281.25 88.0 L280.75 87.6 L280.25 87.3 L279.75 87.0 L279.25 88.6 L278.75 88.6 L278.25 88.8 L277.75 88.1 L277.25 89.7 L276.75 88.8 L276.25 88.3 L275.75 88.8 L275.25 88.7 L274.75 87.6 L274.25 88.1 L273.75 88.1 L273.25 87.9 L272.75 86.8 L272.25 86.3 L271.75 88.6 L271.25 88.4 L270.75 88.2 L270.25 87.6 L269.75 88.2 L269.25 87.8 L268.75 87.9 L268.25 87.1 L267.75 87.7 L267.25 87.1 L266.75 87.5 L266.25 87.0 L265.75 87.7 L265.25 86.2 L264.75 87.1 L264.25 87.3 L263.75 87.9 L263.25 88.3 L262.75 87.6 L262.25 86.9 L261.75 87.8 L261.25 87.6 L260.75 87.1 L260.25 86.8 L259.75 87.1 L259.25 85.9 L258.75 86.4 L258.25 87.2 L257.75 87.7 L257.25 87.0 L256.75 87.1 L256.25 87.0 L255.75 86.9 L255.25 87.2 L254.75 88.1 L254.25 87.9 L253.75 87.9 L253.25 88.1 L252.75 87.8 L252.25 87.5 L251.75 87.6 L251.25 88.6 L250.75 88.4 L250.25 87.3 L249.75 87.5 L249.25 87.5 L248.75 88.1 L248.25 87.3 L247.75 88.2 L247.25 88.2 L246.75 87.8 L246.25 87.7 L245.75 88.5 L245.25 88.1 L244.75 87.7 L244.25 87.6 L243.75 89.1 L243.25 89.4 L242.75 88.9 L242.25 88.6 L241.75 89.5 L241.25 90.1 L240.75 89.9 L240.25 89.7 L239.75 89.4 L239.25 88.9 L238.75 88.8 L238.25 88.2 L237.75 88.3 L237.25 87.9 L236.75 87.1 L236.25 87.9 L235.75 87.0 L235.25 87.5 L234.75 87.8 L234.25 87.6 L233.75 87.9 L233.25 87.6 L232.75 88.6 L232.25 88.5 L231.75 87.7 L231.25 87.8 L230.75 87.9 L230.25 87.5 L229.75 88.8 L229.25 88.3 L228.75 87.6 L228.25 88.1 L227.75 88.3 L227.25 87.0 L226.75 87.4 L226.25 88.2 L225.75 87.8 L225.25 87.7 L224.75 88.0 L224.25 87.5 L223.75 87.9 L223.25 87.3 L222.75 88.5 L222.25 88.1 L221.75 87.3 L221.25 87.8 L220.75 88.4 L220.25 88.2 L219.75 88.1 L219.25 88.1 L218.75 88.9 L218.25 88.7 L217.75 88.4 L217.25 88.4 L216.75 88.6 L216.25 88.2 L215.75 87.9 L215.25 88.2 L214.75 88.9 L214.25 88.8 L213.75 88.5 L213.25 88.8 L212.75 89.4 L212.25 89.0 L211.75 88.9 L211.25 88.8 L210.75 88.3 L210.25 87.4 L209.75 87.7 L209.25 86.8 L208.75 127.0 L208.25 177.1 L207.75 219.1 L207.25 257.5 L206.75 262.7 L206.25 263.4 L205.75 263.3 L205.25 263.3 L204.75 263.2 L204.25 262.2 L203.75 262.3 L203.25 262.4 L202.75 262.5 L202.25 262.2 L201.75 262.9 L201.25 263.0 L200.75 263.6 L200.25 263.2 L199.75 263.4 L199.25 263.4 L198.75 262.8 L198.25 262.3 L197.75 262.2 L197.25 261.6 L196.75 261.3 L196.25 261.9 L195.75 260.6 L195.25 261.5 L194.75 260.9 L194.25 238.8 L193.75 207.1 L193.25 172.7 L192.75 132.8 L192.25 86.8 L191.75 88.0 L191.25 89.0 L190.75 89.4 L190.25 88.4 L189.75 88.8 L189.25 87.9 L188.75 88.9 L188.25 89.2 L187.75 88.2 L187.25 88.3 L186.75 87.6 L186.25 87.5 L185.75 88.4 L185.25 88.2 L184.75 87.5 L184.25 87.2 L183.75 88.1 L183.25 88.2 L182.75 88.4 L182.25 88.1 L181.75 87.8 L181.25 87.9 L180.75 87.9 L180.25 88.4 L179.75 88.9 L179.25 88.8 L178.75 87.6 L178.25 87.7 L177.75 87.7 L177.25 88.0 L176.75 88.0 L176.25 87.7 L175.75 87.9 L175.25 87.7 L174.75 88.3 L174.25 88.6 L173.75 89.0 L173.25 88.5 L172.75 89.3 L172.25 88.6 L171.75 88.1 L171.25 89.1 L170.75 88.4 L170.25 88.1 L169.75 88.7 L169.25 88.6 L168.75 88.5 L168.25 89.0 L167.75 88.4 L167.25 88.8 L166.75 88.5 L166.25 88.2 L165.75 87.8 L165.25 87.6 L164.75 87.0 L164.25 87.5 L163.75 87.4 L163.25 87.4 L162.75 87.1 L162.25 87.1 L161.75 88.1 L161.25 88.3 L160.75 88.2 L160.25 88.2 L159.75 88.1 L159.25 87.9 L158.75 87.9 L158.25 87.6 L157.75 87.7 L157.25 88.1 L156.75 87.5 L156.25 87.7 L155.75 87.6 L155.25 88.4 L154.75 88.6 L154.25 88.5 L153.75 88.9 L153.25 88.8 L152.75 87.4 L152.25 87.6 L151.75 88.1 L151.25 88.4 L150.75 87.6 L150.25 87.3 L149.75 87.6 L149.25 87.6 L148.75 88.2 L148.25 88.4 L147.75 89.2 L147.25 88.9 L146.75 88.0 L146.25 87.4 L145.75 88.2 L145.25 88.6 L144.75 88.6 L144.25 88.6 L143.75 88.0 L143.25 88.5 L142.75 87.8 L142.25 88.6 L141.75 89.3 L141.25 89.3 L140.75 88.4 L140.25 88.8 L139.75 87.9 L139.25 88.0 L138.75 88.8 L138.25 88.7 L137.75 88.5 L137.25 88.3 L136.75 88.0 L136.25 88.2 L135.75 88.0 L135.25 88.5 L134.75 88.7 L134.25 87.8 L133.75 88.1 L133.25 88.1 L132.75 88.8 L132.25 87.7 L131.75 87.3 L131.25 88.0 L130.75 88.1 L130.25 87.8 L129.75 88.2 L129.25 88.4 L128.75 88.3 L128.25 87.9 L127.75 88.2 L127.25 89.4 L126.75 88.4 L126.25 88.9 L125.75 88.3 L125.25 87.8 L124.75 88.4 L124.25 88.2 L123.75 88.2 L123.25 88.3 L122.75 88.5 L122.25 88.0 L121.75 87.5 L121.25 88.0 L120.75 88.0 L120.25 88.2 L119.75 87.9 L119.25 87.4 L118.75 86.7 L118.25 86.9 L117.75 86.6 L117.25 87.5 L116.75 87.1 L116.25 87.7 L115.75 87.2 L115.25 87.9 L114.75 88.4 L114.25 89.1 L113.75 89.1 L113.25 88.3 L112.75 88.3 L112.25 88.3 L111.75 88.0 L111.25 88.6 L110.75 88.8 L110.25 89.4 L109.75 88.2 L109.25 88.6 L108.75 89.5 L108.25 88.8 L107.75 88.7 L107.25 88.0 L106.75 88.8 L106.25 88.6 L105.75 88.8 L105.25 88.7 L104.75 87.9 L104.25 87.8 L103.75 87.8 L103.25 88.3 L102.75 88.0 L102.25 87.8 L101.75 87.7 L101.25 87.9 L100.75 87.6 L100.25 87.4 L99.75 87.4 L99.25 87.4 L98.75 87.5 L98.25 88.3 L97.75 86.8 L97.25 167.6 L96.75 219.3 L96.25 262.5 L95.75 263.1 L95.25 263.3 L94.75 263.8 L94.25 264.3 L93.75 264.2 L93.25 264.7 L92.75 264.1 L92.25 264.1 L91.75 263.9 L91.25 264.3 L90.75 263.3 L90.25 264.5 L89.75 263.9 L89.25 264.3 L88.75 264.7 L88.25 263.8 L87.75 264.1 L87.25 264.1 L86.75 263.9 L86.25 262.1 L85.75 263.2 L85.25 262.1 L84.75 262.2 L84.25 261.3 L83.75 261.3 L83.25 261.1 L82.75 256.1 L82.25 220.4 L81.75 181.5 L81.25 136.5 L80.75 86.8 L80.25 86.5 L79.75 86.4 L79.25 86.3 L78.75 87.3 L78.25 87.1 L77.75 87.5 L77.25 86.3 L76.75 86.7 L76.25 87.4 L75.75 87.8 L75.25 88.3 L74.75 88.2 L74.25 88.4 L73.75 87.4 L73.25 88.6 L72.75 88.3 L72.25 88.4Z" fill="#0000ff" stroke="#0000ff" stroke-width="2.7" stroke-linejoin="round"/>
</g>
<g font-family='"Liberation Sans", sans-serif' fill="#000">
<text transform="translate(67.72 396.7) scale(0.9400 1)" font-size="22.5">0</text>
<text transform="translate(155.05 396.7) scale(0.9710 1)" font-size="22.5">0.5</text>
<text transform="translate(262.11 396.7) scale(0.9400 1)" font-size="22.5">1</text>
<text transform="translate(350.13 396.7) scale(0.8860 1)" font-size="22.5">1.5</text>
<text transform="translate(454.22 396.7) scale(0.9400 1)" font-size="22.5">2</text>
<text transform="translate(54.22 29.3) scale(0.9400 1)" font-size="22.5">2</text>
<text transform="translate(54.37 99.1) scale(0.9400 1)" font-size="22.5">0</text>
<text transform="translate(47.02 168.8) scale(0.9846 1)" font-size="22.5">-2</text>
<text transform="translate(47.03 238.6) scale(0.9702 1)" font-size="22.5">-4</text>
<text transform="translate(47.01 308.3) scale(0.9879 1)" font-size="22.5">-6</text>
<text transform="translate(47.01 378.1) scale(0.9873 1)" font-size="22.5">-8</text>
<text transform="translate(235.21 425.5) scale(0.8551 1)" font-size="22.5">time</text>
<text transform="translate(278.88 425.5) scale(0.9463 1)" font-size="22.5">(0.0025</text>
<text transform="translate(357.28 425.5) scale(0.9928 1)" font-size="22.5">s)</text>
<text transform="translate(488.61 436.6) scale(0.9400 1)" font-size="22.5">x</text>
<text transform="translate(507.34 436.6) scale(0.8969 1)" font-size="22.5">10</text>
<text transform="translate(529.15 422.8) scale(0.9400 1)" font-size="14.5">4</text>
<text transform="translate(30.6 301.07) rotate(-90) scale(0.9595 1)" font-size="21.5" stroke="none">gyroscope</text>
<text transform="translate(30.6 200.30) rotate(-90) scale(1.0501 1)" font-size="21.5" stroke="none">rate</text>
<text transform="translate(30.6 155.44) rotate(-90) scale(1.0039 1)" font-size="21.5" stroke="none">(deg/s)</text>
</g>
</svg>
</body></html>
